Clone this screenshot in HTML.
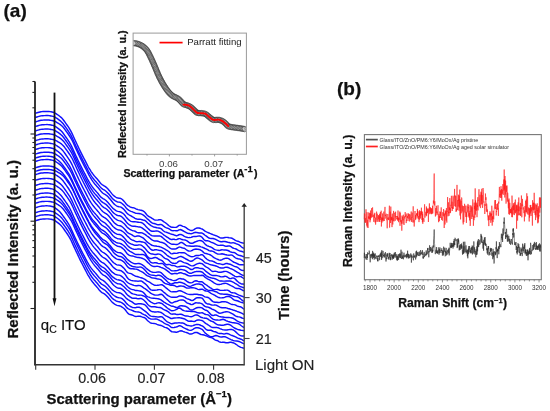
<!DOCTYPE html>
<html><head><meta charset="utf-8"><style>
html,body{margin:0;padding:0;background:#fff;}
svg{display:block;filter:blur(0.35px);}
</style></head><body>
<svg width="550" height="411" viewBox="0 0 550 411" font-family="Liberation Sans, sans-serif">
<rect width="550" height="411" fill="#fff"/>
<g fill="none" stroke="#1010ff" stroke-width="1.45" stroke-linejoin="round">
<path d="M35.0,113.50 L36.0,113.14 L37.0,112.80 L38.0,112.50 L39.0,112.21 L40.0,111.93 L41.0,111.73 L42.0,111.64 L43.0,111.56 L44.0,111.50 L45.0,111.45 L46.0,111.41 L47.0,111.40 L48.0,111.42 L49.0,111.50 L50.0,111.63 L51.0,111.79 L52.0,111.98 L53.0,112.20 L54.0,112.54 L55.0,113.05 L56.0,113.67 L57.0,114.34 L58.0,115.00 L59.0,115.70 L60.0,116.48 L61.0,117.34 L62.0,118.31 L63.0,119.46 L64.0,120.78 L65.0,122.18 L66.0,123.60 L67.0,125.01 L68.0,126.44 L69.0,127.95 L70.0,129.57 L71.0,131.33 L72.0,133.33 L73.0,135.49 L74.0,137.74 L75.0,139.98 L76.0,142.14 L77.0,144.26 L78.0,146.39 L79.0,148.50 L80.0,150.57 L81.0,152.61 L82.0,154.60 L83.0,156.57 L84.0,158.51 L85.0,160.44 L86.0,162.37 L87.0,164.32 L88.0,166.23 L89.0,168.03 L90.0,169.69 L91.0,171.28 L92.0,172.78 L93.0,174.17 L94.0,175.43 L95.0,176.60 L96.0,177.72 L97.0,178.83 L98.0,180.00 L99.0,181.26 L100.0,182.52 L101.0,183.67 L102.0,184.58 L103.0,185.23 L104.0,185.77 L105.0,186.35 L106.0,187.11 L107.0,188.05 L108.0,189.10 L109.0,190.18 L110.0,191.33 L111.0,192.60 L112.0,193.86 L113.0,194.98 L114.0,195.83 L115.0,196.60 L116.0,197.27 L117.0,197.80 L118.0,198.09 L119.0,198.16 L120.0,198.24 L121.0,198.58 L122.0,199.24 L123.0,200.15 L124.0,201.17 L125.0,202.39 L126.0,203.70 L127.0,204.82 L128.0,205.57 L129.0,206.22 L130.0,206.82 L131.0,207.23 L132.0,207.47 L133.0,207.67 L134.0,207.91 L135.0,208.31 L136.0,208.83 L137.0,209.29 L138.0,209.59 L139.0,209.84 L140.0,210.06 L141.0,210.23 L142.0,210.51 L143.0,210.95 L144.0,211.58 L145.0,212.48 L146.0,213.78 L147.0,215.07 L148.0,215.95 L149.0,216.51 L150.0,217.09 L151.0,217.70 L152.0,218.32 L153.0,218.98 L154.0,219.59 L155.0,219.99 L156.0,220.15 L157.0,220.12 L158.0,219.96 L159.0,219.76 L160.0,219.66 L161.0,219.80 L162.0,220.32 L163.0,221.09 L164.0,221.84 L165.0,222.49 L166.0,223.20 L167.0,224.03 L168.0,224.91 L169.0,225.71 L170.0,226.47 L171.0,227.01 L172.0,227.28 L173.0,227.31 L174.0,227.35 L175.0,227.40 L176.0,227.36 L177.0,226.96 L178.0,226.14 L179.0,225.39 L180.0,225.16 L181.0,225.45 L182.0,225.96 L183.0,226.37 L184.0,226.62 L185.0,226.99 L186.0,227.62 L187.0,228.38 L188.0,229.07 L189.0,229.67 L190.0,230.15 L191.0,230.50 L192.0,230.54 L193.0,230.19 L194.0,229.58 L195.0,228.90 L196.0,228.36 L197.0,228.07 L198.0,227.95 L199.0,228.02 L200.0,228.29 L201.0,228.65 L202.0,228.96 L203.0,229.54 L204.0,230.33 L205.0,231.11 L206.0,231.67 L207.0,232.12 L208.0,232.54 L209.0,232.99 L210.0,233.43 L211.0,233.82 L212.0,234.24 L213.0,234.66 L214.0,235.03 L215.0,235.37 L216.0,235.69 L217.0,236.08 L218.0,236.62 L219.0,237.24 L220.0,237.71 L221.0,237.95 L222.0,238.05 L223.0,237.96 L224.0,237.78 L225.0,237.58 L226.0,237.40 L227.0,237.37 L228.0,237.50 L229.0,237.71 L230.0,237.86 L231.0,238.00 L232.0,238.26 L233.0,238.78 L234.0,239.46 L235.0,240.10 L236.0,240.60 L237.0,240.95 L238.0,241.27 L239.0,241.64 L240.0,242.09 L241.0,242.49 L242.0,242.78 L243.0,243.03 L244.0,243.37"/>
<path d="M35.0,117.65 L36.0,117.29 L37.0,116.95 L38.0,116.65 L39.0,116.36 L40.0,116.08 L41.0,115.89 L42.0,115.79 L43.0,115.71 L44.0,115.65 L45.0,115.60 L46.0,115.56 L47.0,115.55 L48.0,115.58 L49.0,115.65 L50.0,115.78 L51.0,115.94 L52.0,116.14 L53.0,116.35 L54.0,116.68 L55.0,117.19 L56.0,117.81 L57.0,118.47 L58.0,119.13 L59.0,119.83 L60.0,120.60 L61.0,121.45 L62.0,122.41 L63.0,123.56 L64.0,124.87 L65.0,126.27 L66.0,127.69 L67.0,129.10 L68.0,130.53 L69.0,132.04 L70.0,133.65 L71.0,135.40 L72.0,137.39 L73.0,139.55 L74.0,141.80 L75.0,144.04 L76.0,146.20 L77.0,148.33 L78.0,150.45 L79.0,152.56 L80.0,154.64 L81.0,156.68 L82.0,158.67 L83.0,160.64 L84.0,162.58 L85.0,164.51 L86.0,166.44 L87.0,168.39 L88.0,170.31 L89.0,172.11 L90.0,173.78 L91.0,175.37 L92.0,176.87 L93.0,178.26 L94.0,179.54 L95.0,180.71 L96.0,181.82 L97.0,182.93 L98.0,184.10 L99.0,185.36 L100.0,186.62 L101.0,187.77 L102.0,188.70 L103.0,189.36 L104.0,189.90 L105.0,190.48 L106.0,191.22 L107.0,192.16 L108.0,193.21 L109.0,194.29 L110.0,195.43 L111.0,196.70 L112.0,197.97 L113.0,199.09 L114.0,199.93 L115.0,200.64 L116.0,201.25 L117.0,201.71 L118.0,202.00 L119.0,202.14 L120.0,202.33 L121.0,202.76 L122.0,203.47 L123.0,204.34 L124.0,205.25 L125.0,206.38 L126.0,207.69 L127.0,208.89 L128.0,209.73 L129.0,210.36 L130.0,210.87 L131.0,211.30 L132.0,211.70 L133.0,212.12 L134.0,212.55 L135.0,212.94 L136.0,213.20 L137.0,213.37 L138.0,213.46 L139.0,213.55 L140.0,213.69 L141.0,213.90 L142.0,214.30 L143.0,214.88 L144.0,215.60 L145.0,216.45 L146.0,217.55 L147.0,218.58 L148.0,219.38 L149.0,220.15 L150.0,221.16 L151.0,222.17 L152.0,222.88 L153.0,223.29 L154.0,223.49 L155.0,223.71 L156.0,224.07 L157.0,224.45 L158.0,224.67 L159.0,224.66 L160.0,224.55 L161.0,224.52 L162.0,224.89 L163.0,225.64 L164.0,226.47 L165.0,227.11 L166.0,227.61 L167.0,228.02 L168.0,228.36 L169.0,228.78 L170.0,229.49 L171.0,230.21 L172.0,230.63 L173.0,230.66 L174.0,230.60 L175.0,230.63 L176.0,230.79 L177.0,230.84 L178.0,230.48 L179.0,229.89 L180.0,229.58 L181.0,229.78 L182.0,230.23 L183.0,230.74 L184.0,231.29 L185.0,231.91 L186.0,232.50 L187.0,232.95 L188.0,233.24 L189.0,233.43 L190.0,233.59 L191.0,233.68 L192.0,233.53 L193.0,233.17 L194.0,232.74 L195.0,232.42 L196.0,232.34 L197.0,232.56 L198.0,232.83 L199.0,232.96 L200.0,232.96 L201.0,232.96 L202.0,233.05 L203.0,233.60 L204.0,234.43 L205.0,235.24 L206.0,235.88 L207.0,236.63 L208.0,237.43 L209.0,238.03 L210.0,238.37 L211.0,238.45 L212.0,238.42 L213.0,238.51 L214.0,238.80 L215.0,239.14 L216.0,239.54 L217.0,240.07 L218.0,240.58 L219.0,241.09 L220.0,241.55 L221.0,241.77 L222.0,241.67 L223.0,241.48 L224.0,241.40 L225.0,241.50 L226.0,241.74 L227.0,242.05 L228.0,242.35 L229.0,242.58 L230.0,242.79 L231.0,242.91 L232.0,242.85 L233.0,242.76 L234.0,242.88 L235.0,243.22 L236.0,243.66 L237.0,244.05 L238.0,244.40 L239.0,244.85 L240.0,245.56 L241.0,246.46 L242.0,247.30 L243.0,247.92 L244.0,248.37"/>
<path d="M35.0,122.07 L36.0,121.70 L37.0,121.37 L38.0,121.07 L39.0,120.77 L40.0,120.50 L41.0,120.30 L42.0,120.20 L43.0,120.13 L44.0,120.06 L45.0,120.01 L46.0,119.98 L47.0,119.97 L48.0,119.99 L49.0,120.07 L50.0,120.19 L51.0,120.35 L52.0,120.54 L53.0,120.74 L54.0,121.01 L55.0,121.44 L56.0,121.96 L57.0,122.55 L58.0,123.15 L59.0,123.75 L60.0,124.42 L61.0,125.18 L62.0,126.04 L63.0,127.03 L64.0,128.22 L65.0,129.55 L66.0,130.96 L67.0,132.37 L68.0,133.78 L69.0,135.23 L70.0,136.75 L71.0,138.38 L72.0,140.18 L73.0,142.21 L74.0,144.39 L75.0,146.64 L76.0,148.87 L77.0,151.02 L78.0,153.14 L79.0,155.27 L80.0,157.37 L81.0,159.44 L82.0,161.47 L83.0,163.46 L84.0,165.42 L85.0,167.36 L86.0,169.29 L87.0,171.22 L88.0,173.18 L89.0,175.08 L90.0,176.85 L91.0,178.50 L92.0,180.07 L93.0,181.56 L94.0,182.93 L95.0,184.18 L96.0,185.33 L97.0,186.44 L98.0,187.56 L99.0,188.75 L100.0,190.02 L101.0,191.27 L102.0,192.38 L103.0,193.25 L104.0,193.88 L105.0,194.42 L106.0,195.02 L107.0,195.81 L108.0,196.80 L109.0,197.89 L110.0,199.01 L111.0,200.23 L112.0,201.56 L113.0,202.85 L114.0,203.92 L115.0,204.75 L116.0,205.51 L117.0,206.14 L118.0,206.57 L119.0,206.76 L120.0,206.87 L121.0,207.15 L122.0,207.77 L123.0,208.64 L124.0,209.60 L125.0,210.72 L126.0,212.04 L127.0,213.27 L128.0,214.12 L129.0,214.76 L130.0,215.36 L131.0,215.94 L132.0,216.50 L133.0,217.09 L134.0,217.69 L135.0,218.27 L136.0,218.79 L137.0,219.15 L138.0,219.30 L139.0,219.30 L140.0,219.28 L141.0,219.39 L142.0,219.71 L143.0,220.03 L144.0,220.22 L145.0,220.55 L146.0,221.33 L147.0,222.35 L148.0,223.30 L149.0,224.07 L150.0,224.82 L151.0,225.56 L152.0,226.20 L153.0,226.70 L154.0,227.05 L155.0,227.26 L156.0,227.47 L157.0,227.71 L158.0,227.91 L159.0,228.04 L160.0,228.23 L161.0,228.61 L162.0,229.39 L163.0,230.43 L164.0,231.33 L165.0,231.83 L166.0,232.15 L167.0,232.51 L168.0,232.89 L169.0,233.27 L170.0,233.68 L171.0,233.99 L172.0,234.24 L173.0,234.46 L174.0,234.85 L175.0,235.29 L176.0,235.66 L177.0,235.68 L178.0,235.26 L179.0,234.72 L180.0,234.41 L181.0,234.49 L182.0,234.90 L183.0,235.49 L184.0,236.08 L185.0,236.63 L186.0,237.04 L187.0,237.31 L188.0,237.49 L189.0,237.61 L190.0,237.59 L191.0,237.34 L192.0,236.95 L193.0,236.63 L194.0,236.48 L195.0,236.45 L196.0,236.41 L197.0,236.31 L198.0,236.10 L199.0,235.96 L200.0,236.07 L201.0,236.52 L202.0,237.30 L203.0,238.48 L204.0,239.68 L205.0,240.54 L206.0,240.80 L207.0,240.79 L208.0,240.83 L209.0,241.11 L210.0,241.60 L211.0,242.13 L212.0,242.56 L213.0,242.90 L214.0,243.29 L215.0,243.83 L216.0,244.40 L217.0,244.93 L218.0,245.27 L219.0,245.37 L220.0,245.32 L221.0,245.18 L222.0,245.12 L223.0,245.27 L224.0,245.62 L225.0,246.04 L226.0,246.32 L227.0,246.29 L228.0,246.02 L229.0,245.86 L230.0,246.08 L231.0,246.63 L232.0,247.37 L233.0,248.02 L234.0,248.40 L235.0,248.66 L236.0,249.01 L237.0,249.51 L238.0,250.10 L239.0,250.65 L240.0,251.03 L241.0,251.24 L242.0,251.47 L243.0,251.84 L244.0,252.39"/>
<path d="M35.0,126.69 L36.0,126.33 L37.0,125.99 L38.0,125.69 L39.0,125.40 L40.0,125.12 L41.0,124.93 L42.0,124.83 L43.0,124.75 L44.0,124.69 L45.0,124.64 L46.0,124.61 L47.0,124.59 L48.0,124.62 L49.0,124.70 L50.0,124.82 L51.0,124.99 L52.0,125.18 L53.0,125.40 L54.0,125.76 L55.0,126.31 L56.0,126.96 L57.0,127.65 L58.0,128.34 L59.0,129.08 L60.0,129.90 L61.0,130.80 L62.0,131.82 L63.0,133.04 L64.0,134.38 L65.0,135.80 L66.0,137.21 L67.0,138.62 L68.0,140.08 L69.0,141.61 L70.0,143.26 L71.0,145.10 L72.0,147.15 L73.0,149.35 L74.0,151.61 L75.0,153.83 L76.0,155.96 L77.0,158.09 L78.0,160.21 L79.0,162.31 L80.0,164.38 L81.0,166.40 L82.0,168.38 L83.0,170.34 L84.0,172.28 L85.0,174.20 L86.0,176.14 L87.0,178.09 L88.0,179.98 L89.0,181.73 L90.0,183.37 L91.0,184.93 L92.0,186.40 L93.0,187.75 L94.0,188.98 L95.0,190.13 L96.0,191.24 L97.0,192.36 L98.0,193.56 L99.0,194.84 L100.0,196.07 L101.0,197.16 L102.0,197.99 L103.0,198.59 L104.0,199.13 L105.0,199.75 L106.0,200.56 L107.0,201.54 L108.0,202.60 L109.0,203.68 L110.0,204.85 L111.0,206.12 L112.0,207.34 L113.0,208.39 L114.0,209.20 L115.0,209.95 L116.0,210.60 L117.0,211.08 L118.0,211.39 L119.0,211.59 L120.0,211.82 L121.0,212.23 L122.0,212.79 L123.0,213.46 L124.0,214.26 L125.0,215.42 L126.0,216.82 L127.0,218.11 L128.0,219.08 L129.0,219.93 L130.0,220.75 L131.0,221.37 L132.0,221.65 L133.0,221.72 L134.0,221.74 L135.0,221.81 L136.0,221.89 L137.0,222.01 L138.0,222.16 L139.0,222.29 L140.0,222.39 L141.0,222.50 L142.0,222.84 L143.0,223.47 L144.0,224.34 L145.0,225.36 L146.0,226.51 L147.0,227.57 L148.0,228.48 L149.0,229.36 L150.0,230.29 L151.0,231.00 L152.0,231.30 L153.0,231.33 L154.0,231.25 L155.0,231.12 L156.0,230.99 L157.0,230.97 L158.0,231.13 L159.0,231.56 L160.0,232.15 L161.0,232.76 L162.0,233.46 L163.0,234.27 L164.0,235.07 L165.0,235.77 L166.0,236.44 L167.0,237.07 L168.0,237.73 L169.0,238.40 L170.0,239.04 L171.0,239.44 L172.0,239.49 L173.0,239.30 L174.0,239.33 L175.0,239.53 L176.0,239.65 L177.0,239.45 L178.0,238.98 L179.0,238.61 L180.0,238.65 L181.0,239.08 L182.0,239.56 L183.0,239.82 L184.0,239.87 L185.0,240.00 L186.0,240.33 L187.0,240.89 L188.0,241.63 L189.0,242.43 L190.0,243.02 L191.0,243.33 L192.0,243.30 L193.0,242.97 L194.0,242.50 L195.0,242.03 L196.0,241.62 L197.0,241.24 L198.0,240.86 L199.0,240.60 L200.0,240.56 L201.0,240.73 L202.0,241.03 L203.0,241.77 L204.0,242.88 L205.0,244.05 L206.0,244.93 L207.0,245.57 L208.0,246.04 L209.0,246.39 L210.0,246.71 L211.0,247.07 L212.0,247.61 L213.0,248.32 L214.0,249.04 L215.0,249.57 L216.0,249.88 L217.0,250.11 L218.0,250.34 L219.0,250.44 L220.0,250.29 L221.0,249.99 L222.0,249.81 L223.0,249.85 L224.0,249.96 L225.0,250.02 L226.0,250.06 L227.0,250.20 L228.0,250.52 L229.0,251.00 L230.0,251.56 L231.0,252.07 L232.0,252.36 L233.0,252.43 L234.0,252.49 L235.0,252.84 L236.0,253.54 L237.0,254.36 L238.0,254.97 L239.0,255.26 L240.0,255.47 L241.0,255.75 L242.0,256.13 L243.0,256.54 L244.0,256.93"/>
<path d="M35.0,131.13 L36.0,130.76 L37.0,130.43 L38.0,130.13 L39.0,129.83 L40.0,129.56 L41.0,129.36 L42.0,129.27 L43.0,129.19 L44.0,129.12 L45.0,129.07 L46.0,129.04 L47.0,129.03 L48.0,129.05 L49.0,129.13 L50.0,129.25 L51.0,129.42 L52.0,129.61 L53.0,129.82 L54.0,130.13 L55.0,130.61 L56.0,131.20 L57.0,131.83 L58.0,132.47 L59.0,133.13 L60.0,133.87 L61.0,134.69 L62.0,135.61 L63.0,136.70 L64.0,137.98 L65.0,139.36 L66.0,140.78 L67.0,142.19 L68.0,143.61 L69.0,145.09 L70.0,146.67 L71.0,148.38 L72.0,150.30 L73.0,152.42 L74.0,154.66 L75.0,156.91 L76.0,159.09 L77.0,161.22 L78.0,163.35 L79.0,165.46 L80.0,167.55 L81.0,169.60 L82.0,171.60 L83.0,173.58 L84.0,175.53 L85.0,177.46 L86.0,179.38 L87.0,181.33 L88.0,183.27 L89.0,185.11 L90.0,186.80 L91.0,188.42 L92.0,189.94 L93.0,191.37 L94.0,192.67 L95.0,193.87 L96.0,194.99 L97.0,196.10 L98.0,197.24 L99.0,198.48 L100.0,199.76 L101.0,200.95 L102.0,201.95 L103.0,202.67 L104.0,203.23 L105.0,203.78 L106.0,204.47 L107.0,205.37 L108.0,206.40 L109.0,207.49 L110.0,208.61 L111.0,209.87 L112.0,211.17 L113.0,212.35 L114.0,213.26 L115.0,214.03 L116.0,214.73 L117.0,215.28 L118.0,215.61 L119.0,215.72 L120.0,215.84 L121.0,216.26 L122.0,217.05 L123.0,218.03 L124.0,219.03 L125.0,220.20 L126.0,221.55 L127.0,222.80 L128.0,223.74 L129.0,224.53 L130.0,225.20 L131.0,225.72 L132.0,226.06 L133.0,226.21 L134.0,226.26 L135.0,226.34 L136.0,226.48 L137.0,226.62 L138.0,226.78 L139.0,226.91 L140.0,227.03 L141.0,227.34 L142.0,227.94 L143.0,228.68 L144.0,229.43 L145.0,230.15 L146.0,230.97 L147.0,231.90 L148.0,232.82 L149.0,233.65 L150.0,234.48 L151.0,235.23 L152.0,235.69 L153.0,235.89 L154.0,236.00 L155.0,236.03 L156.0,235.98 L157.0,235.96 L158.0,235.95 L159.0,235.96 L160.0,236.06 L161.0,236.43 L162.0,237.16 L163.0,238.06 L164.0,238.94 L165.0,239.72 L166.0,240.51 L167.0,241.31 L168.0,242.06 L169.0,242.73 L170.0,243.38 L171.0,243.90 L172.0,244.23 L173.0,244.31 L174.0,244.34 L175.0,244.38 L176.0,244.50 L177.0,244.51 L178.0,244.17 L179.0,243.60 L180.0,242.94 L181.0,242.51 L182.0,242.59 L183.0,243.18 L184.0,243.91 L185.0,244.71 L186.0,245.37 L187.0,245.70 L188.0,245.87 L189.0,246.01 L190.0,246.08 L191.0,246.20 L192.0,246.34 L193.0,246.33 L194.0,246.20 L195.0,246.08 L196.0,245.98 L197.0,246.00 L198.0,246.11 L199.0,246.30 L200.0,246.56 L201.0,246.85 L202.0,247.11 L203.0,247.54 L204.0,248.01 L205.0,248.47 L206.0,248.84 L207.0,249.32 L208.0,249.96 L209.0,250.58 L210.0,250.92 L211.0,251.00 L212.0,251.09 L213.0,251.40 L214.0,251.97 L215.0,252.65 L216.0,253.24 L217.0,253.68 L218.0,253.97 L219.0,254.11 L220.0,254.10 L221.0,253.94 L222.0,253.83 L223.0,253.97 L224.0,254.26 L225.0,254.53 L226.0,254.74 L227.0,254.96 L228.0,255.11 L229.0,255.18 L230.0,255.14 L231.0,255.00 L232.0,255.11 L233.0,255.74 L234.0,256.66 L235.0,257.51 L236.0,258.16 L237.0,258.58 L238.0,258.81 L239.0,258.95 L240.0,259.13 L241.0,259.49 L242.0,260.15 L243.0,261.04 L244.0,261.87"/>
<path d="M35.0,135.84 L36.0,135.48 L37.0,135.14 L38.0,134.84 L39.0,134.55 L40.0,134.27 L41.0,134.08 L42.0,133.98 L43.0,133.90 L44.0,133.84 L45.0,133.79 L46.0,133.75 L47.0,133.74 L48.0,133.77 L49.0,133.84 L50.0,133.97 L51.0,134.13 L52.0,134.31 L53.0,134.51 L54.0,134.77 L55.0,135.19 L56.0,135.70 L57.0,136.27 L58.0,136.86 L59.0,137.46 L60.0,138.11 L61.0,138.85 L62.0,139.70 L63.0,140.67 L64.0,141.83 L65.0,143.15 L66.0,144.55 L67.0,145.97 L68.0,147.38 L69.0,148.82 L70.0,150.33 L71.0,151.94 L72.0,153.71 L73.0,155.72 L74.0,157.88 L75.0,160.13 L76.0,162.37 L77.0,164.52 L78.0,166.65 L79.0,168.78 L80.0,170.88 L81.0,172.96 L82.0,174.99 L83.0,176.99 L84.0,178.95 L85.0,180.89 L86.0,182.82 L87.0,184.75 L88.0,186.71 L89.0,188.62 L90.0,190.41 L91.0,192.07 L92.0,193.66 L93.0,195.15 L94.0,196.54 L95.0,197.80 L96.0,198.97 L97.0,200.08 L98.0,201.19 L99.0,202.37 L100.0,203.63 L101.0,204.89 L102.0,206.03 L103.0,206.94 L104.0,207.59 L105.0,208.13 L106.0,208.71 L107.0,209.48 L108.0,210.45 L109.0,211.54 L110.0,212.66 L111.0,213.87 L112.0,215.21 L113.0,216.52 L114.0,217.62 L115.0,218.47 L116.0,219.23 L117.0,219.87 L118.0,220.35 L119.0,220.63 L120.0,220.86 L121.0,221.27 L122.0,221.96 L123.0,222.75 L124.0,223.53 L125.0,224.53 L126.0,225.82 L127.0,227.04 L128.0,227.93 L129.0,228.65 L130.0,229.32 L131.0,229.94 L132.0,230.41 L133.0,230.69 L134.0,230.91 L135.0,231.26 L136.0,231.77 L137.0,232.33 L138.0,232.67 L139.0,232.76 L140.0,232.72 L141.0,232.69 L142.0,232.87 L143.0,233.27 L144.0,233.80 L145.0,234.39 L146.0,235.19 L147.0,235.98 L148.0,236.69 L149.0,237.43 L150.0,238.27 L151.0,239.11 L152.0,239.80 L153.0,240.33 L154.0,240.77 L155.0,241.03 L156.0,241.06 L157.0,241.07 L158.0,241.28 L159.0,241.67 L160.0,242.05 L161.0,242.33 L162.0,242.55 L163.0,242.81 L164.0,243.21 L165.0,243.81 L166.0,244.63 L167.0,245.60 L168.0,246.50 L169.0,247.27 L170.0,248.03 L171.0,248.63 L172.0,248.97 L173.0,249.03 L174.0,249.05 L175.0,248.97 L176.0,248.75 L177.0,248.28 L178.0,247.61 L179.0,247.14 L180.0,247.08 L181.0,247.35 L182.0,247.71 L183.0,247.98 L184.0,248.19 L185.0,248.71 L186.0,249.48 L187.0,250.22 L188.0,250.80 L189.0,251.15 L190.0,251.13 L191.0,250.88 L192.0,250.49 L193.0,249.94 L194.0,249.44 L195.0,249.16 L196.0,249.06 L197.0,249.17 L198.0,249.30 L199.0,249.41 L200.0,249.69 L201.0,250.26 L202.0,250.96 L203.0,251.88 L204.0,252.77 L205.0,253.36 L206.0,253.58 L207.0,253.79 L208.0,254.08 L209.0,254.35 L210.0,254.73 L211.0,255.29 L212.0,256.02 L213.0,256.81 L214.0,257.56 L215.0,258.20 L216.0,258.66 L217.0,259.07 L218.0,259.51 L219.0,259.94 L220.0,260.16 L221.0,260.06 L222.0,259.71 L223.0,259.20 L224.0,258.69 L225.0,258.35 L226.0,258.17 L227.0,258.15 L228.0,258.39 L229.0,258.92 L230.0,259.58 L231.0,260.28 L232.0,261.02 L233.0,261.74 L234.0,262.25 L235.0,262.63 L236.0,263.04 L237.0,263.51 L238.0,264.03 L239.0,264.49 L240.0,264.74 L241.0,264.73 L242.0,264.63 L243.0,264.67 L244.0,264.99"/>
<path d="M35.0,140.88 L36.0,140.52 L37.0,140.18 L38.0,139.88 L39.0,139.59 L40.0,139.31 L41.0,139.11 L42.0,139.02 L43.0,138.94 L44.0,138.88 L45.0,138.83 L46.0,138.79 L47.0,138.78 L48.0,138.80 L49.0,138.88 L50.0,139.01 L51.0,139.17 L52.0,139.35 L53.0,139.54 L54.0,139.79 L55.0,140.17 L56.0,140.66 L57.0,141.20 L58.0,141.77 L59.0,142.34 L60.0,142.97 L61.0,143.68 L62.0,144.50 L63.0,145.44 L64.0,146.55 L65.0,147.83 L66.0,149.22 L67.0,150.64 L68.0,152.04 L69.0,153.47 L70.0,154.96 L71.0,156.54 L72.0,158.26 L73.0,160.20 L74.0,162.34 L75.0,164.57 L76.0,166.82 L77.0,169.00 L78.0,171.13 L79.0,173.25 L80.0,175.37 L81.0,177.45 L82.0,179.50 L83.0,181.50 L84.0,183.47 L85.0,185.42 L86.0,187.35 L87.0,189.28 L88.0,191.23 L89.0,193.16 L90.0,194.99 L91.0,196.68 L92.0,198.28 L93.0,199.80 L94.0,201.22 L95.0,202.52 L96.0,203.70 L97.0,204.83 L98.0,205.94 L99.0,207.08 L100.0,208.33 L101.0,209.60 L102.0,210.79 L103.0,211.76 L104.0,212.47 L105.0,213.03 L106.0,213.58 L107.0,214.30 L108.0,215.23 L109.0,216.31 L110.0,217.44 L111.0,218.63 L112.0,219.96 L113.0,221.30 L114.0,222.46 L115.0,223.34 L116.0,224.16 L117.0,224.87 L118.0,225.40 L119.0,225.65 L120.0,225.76 L121.0,226.05 L122.0,226.68 L123.0,227.53 L124.0,228.42 L125.0,229.48 L126.0,230.80 L127.0,232.07 L128.0,232.92 L129.0,233.47 L130.0,233.89 L131.0,234.33 L132.0,234.90 L133.0,235.58 L134.0,236.19 L135.0,236.47 L136.0,236.35 L137.0,236.02 L138.0,235.85 L139.0,236.00 L140.0,236.39 L141.0,236.80 L142.0,237.28 L143.0,237.90 L144.0,238.68 L145.0,239.65 L146.0,240.86 L147.0,241.94 L148.0,242.66 L149.0,243.27 L150.0,244.01 L151.0,244.74 L152.0,245.26 L153.0,245.60 L154.0,245.80 L155.0,245.94 L156.0,246.07 L157.0,246.23 L158.0,246.36 L159.0,246.53 L160.0,246.83 L161.0,247.19 L162.0,247.66 L163.0,248.18 L164.0,248.70 L165.0,249.20 L166.0,249.77 L167.0,250.35 L168.0,251.00 L169.0,251.81 L170.0,252.80 L171.0,253.59 L172.0,253.84 L173.0,253.57 L174.0,253.31 L175.0,253.27 L176.0,253.35 L177.0,253.27 L178.0,252.93 L179.0,252.64 L180.0,252.61 L181.0,252.67 L182.0,252.66 L183.0,252.62 L184.0,252.67 L185.0,253.07 L186.0,253.77 L187.0,254.49 L188.0,255.13 L189.0,255.72 L190.0,256.19 L191.0,256.50 L192.0,256.67 L193.0,256.62 L194.0,256.33 L195.0,255.90 L196.0,255.52 L197.0,255.44 L198.0,255.49 L199.0,255.42 L200.0,255.15 L201.0,254.81 L202.0,254.65 L203.0,255.20 L204.0,256.30 L205.0,257.47 L206.0,258.40 L207.0,259.26 L208.0,259.97 L209.0,260.45 L210.0,260.74 L211.0,260.90 L212.0,261.05 L213.0,261.33 L214.0,261.75 L215.0,262.31 L216.0,262.89 L217.0,263.33 L218.0,263.60 L219.0,263.74 L220.0,263.86 L221.0,264.10 L222.0,264.42 L223.0,264.51 L224.0,264.28 L225.0,263.88 L226.0,263.50 L227.0,263.47 L228.0,263.77 L229.0,264.07 L230.0,264.26 L231.0,264.54 L232.0,265.04 L233.0,265.63 L234.0,266.13 L235.0,266.47 L236.0,266.72 L237.0,267.10 L238.0,267.72 L239.0,268.56 L240.0,269.38 L241.0,269.98 L242.0,270.30 L243.0,270.43 L244.0,270.56"/>
<path d="M35.0,145.14 L36.0,144.78 L37.0,144.45 L38.0,144.14 L39.0,143.85 L40.0,143.58 L41.0,143.38 L42.0,143.28 L43.0,143.21 L44.0,143.14 L45.0,143.09 L46.0,143.06 L47.0,143.04 L48.0,143.07 L49.0,143.15 L50.0,143.27 L51.0,143.44 L52.0,143.63 L53.0,143.84 L54.0,144.16 L55.0,144.65 L56.0,145.25 L57.0,145.90 L58.0,146.54 L59.0,147.22 L60.0,147.97 L61.0,148.81 L62.0,149.75 L63.0,150.86 L64.0,152.15 L65.0,153.54 L66.0,154.97 L67.0,156.37 L68.0,157.80 L69.0,159.29 L70.0,160.88 L71.0,162.61 L72.0,164.56 L73.0,166.70 L74.0,168.94 L75.0,171.19 L76.0,173.36 L77.0,175.49 L78.0,177.61 L79.0,179.72 L80.0,181.81 L81.0,183.85 L82.0,185.85 L83.0,187.82 L84.0,189.77 L85.0,191.70 L86.0,193.63 L87.0,195.58 L88.0,197.51 L89.0,199.33 L90.0,201.01 L91.0,202.62 L92.0,204.13 L93.0,205.55 L94.0,206.84 L95.0,208.02 L96.0,209.14 L97.0,210.25 L98.0,211.40 L99.0,212.65 L100.0,213.92 L101.0,215.10 L102.0,216.07 L103.0,216.76 L104.0,217.31 L105.0,217.87 L106.0,218.58 L107.0,219.50 L108.0,220.54 L109.0,221.63 L110.0,222.75 L111.0,224.02 L112.0,225.30 L113.0,226.44 L114.0,227.32 L115.0,228.09 L116.0,228.79 L117.0,229.36 L118.0,229.75 L119.0,229.94 L120.0,230.11 L121.0,230.45 L122.0,231.04 L123.0,231.75 L124.0,232.49 L125.0,233.44 L126.0,234.58 L127.0,235.68 L128.0,236.60 L129.0,237.53 L130.0,238.48 L131.0,239.32 L132.0,239.86 L133.0,240.23 L134.0,240.62 L135.0,241.11 L136.0,241.51 L137.0,241.68 L138.0,241.64 L139.0,241.54 L140.0,241.58 L141.0,241.74 L142.0,241.93 L143.0,242.09 L144.0,242.33 L145.0,242.85 L146.0,243.87 L147.0,245.10 L148.0,246.23 L149.0,247.30 L150.0,248.41 L151.0,249.39 L152.0,250.05 L153.0,250.25 L154.0,250.07 L155.0,249.79 L156.0,249.72 L157.0,249.84 L158.0,250.08 L159.0,250.31 L160.0,250.45 L161.0,250.59 L162.0,251.03 L163.0,251.74 L164.0,252.54 L165.0,253.36 L166.0,254.28 L167.0,255.21 L168.0,256.00 L169.0,256.58 L170.0,257.13 L171.0,257.73 L172.0,258.28 L173.0,258.59 L174.0,258.74 L175.0,258.58 L176.0,258.23 L177.0,257.79 L178.0,257.29 L179.0,256.84 L180.0,256.59 L181.0,256.58 L182.0,256.79 L183.0,257.24 L184.0,257.77 L185.0,258.40 L186.0,259.01 L187.0,259.50 L188.0,260.01 L189.0,260.58 L190.0,261.02 L191.0,261.21 L192.0,261.03 L193.0,260.49 L194.0,259.74 L195.0,258.94 L196.0,258.28 L197.0,258.00 L198.0,258.08 L199.0,258.40 L200.0,258.87 L201.0,259.39 L202.0,259.90 L203.0,260.78 L204.0,261.81 L205.0,262.64 L206.0,263.05 L207.0,263.34 L208.0,263.69 L209.0,264.11 L210.0,264.49 L211.0,264.77 L212.0,264.99 L213.0,265.19 L214.0,265.42 L215.0,265.69 L216.0,265.97 L217.0,266.35 L218.0,266.86 L219.0,267.39 L220.0,267.81 L221.0,268.04 L222.0,268.06 L223.0,267.94 L224.0,267.70 L225.0,267.39 L226.0,267.16 L227.0,267.20 L228.0,267.49 L229.0,267.94 L230.0,268.41 L231.0,268.80 L232.0,269.18 L233.0,269.66 L234.0,270.19 L235.0,270.79 L236.0,271.45 L237.0,272.04 L238.0,272.61 L239.0,273.19 L240.0,273.81 L241.0,274.43 L242.0,274.99 L243.0,275.36 L244.0,275.57"/>
<path d="M35.0,149.70 L36.0,149.33 L37.0,149.00 L38.0,148.70 L39.0,148.40 L40.0,148.13 L41.0,147.93 L42.0,147.83 L43.0,147.76 L44.0,147.69 L45.0,147.64 L46.0,147.61 L47.0,147.60 L48.0,147.62 L49.0,147.70 L50.0,147.82 L51.0,147.99 L52.0,148.19 L53.0,148.42 L54.0,148.81 L55.0,149.39 L56.0,150.08 L57.0,150.80 L58.0,151.52 L59.0,152.31 L60.0,153.18 L61.0,154.13 L62.0,155.23 L63.0,156.49 L64.0,157.87 L65.0,159.30 L66.0,160.70 L67.0,162.12 L68.0,163.60 L69.0,165.17 L70.0,166.88 L71.0,168.79 L72.0,170.91 L73.0,173.14 L74.0,175.39 L75.0,177.58 L76.0,179.70 L77.0,181.83 L78.0,183.95 L79.0,186.04 L80.0,188.09 L81.0,190.09 L82.0,192.07 L83.0,194.02 L84.0,195.95 L85.0,197.88 L86.0,199.83 L87.0,201.76 L88.0,203.61 L89.0,205.31 L90.0,206.92 L91.0,208.45 L92.0,209.88 L93.0,211.19 L94.0,212.39 L95.0,213.52 L96.0,214.63 L97.0,215.77 L98.0,217.00 L99.0,218.28 L100.0,219.48 L101.0,220.48 L102.0,221.22 L103.0,221.78 L104.0,222.33 L105.0,223.01 L106.0,223.89 L107.0,224.90 L108.0,225.97 L109.0,227.04 L110.0,228.25 L111.0,229.50 L112.0,230.65 L113.0,231.59 L114.0,232.34 L115.0,233.05 L116.0,233.69 L117.0,234.17 L118.0,234.40 L119.0,234.46 L120.0,234.56 L121.0,234.98 L122.0,235.71 L123.0,236.65 L124.0,237.62 L125.0,238.74 L126.0,239.98 L127.0,241.18 L128.0,242.11 L129.0,242.85 L130.0,243.47 L131.0,243.93 L132.0,244.27 L133.0,244.63 L134.0,244.98 L135.0,245.22 L136.0,245.28 L137.0,245.24 L138.0,245.07 L139.0,244.87 L140.0,244.86 L141.0,245.14 L142.0,245.73 L143.0,246.52 L144.0,247.40 L145.0,248.33 L146.0,249.48 L147.0,250.74 L148.0,251.88 L149.0,252.73 L150.0,253.38 L151.0,253.78 L152.0,253.94 L153.0,254.08 L154.0,254.32 L155.0,254.48 L156.0,254.44 L157.0,254.24 L158.0,254.08 L159.0,254.12 L160.0,254.41 L161.0,254.94 L162.0,255.78 L163.0,256.77 L164.0,257.66 L165.0,258.29 L166.0,258.73 L167.0,259.11 L168.0,259.67 L169.0,260.51 L170.0,261.54 L171.0,262.43 L172.0,262.98 L173.0,263.19 L174.0,263.33 L175.0,263.41 L176.0,263.30 L177.0,262.77 L178.0,261.91 L179.0,261.16 L180.0,260.87 L181.0,261.07 L182.0,261.60 L183.0,262.19 L184.0,262.58 L185.0,262.85 L186.0,263.12 L187.0,263.50 L188.0,263.96 L189.0,264.53 L190.0,265.12 L191.0,265.60 L192.0,265.86 L193.0,265.85 L194.0,265.56 L195.0,264.98 L196.0,264.36 L197.0,263.93 L198.0,263.57 L199.0,263.34 L200.0,263.30 L201.0,263.42 L202.0,263.67 L203.0,264.37 L204.0,265.31 L205.0,266.22 L206.0,266.91 L207.0,267.46 L208.0,267.98 L209.0,268.67 L210.0,269.57 L211.0,270.50 L212.0,271.20 L213.0,271.48 L214.0,271.40 L215.0,271.29 L216.0,271.38 L217.0,271.67 L218.0,271.99 L219.0,272.23 L220.0,272.34 L221.0,272.27 L222.0,272.08 L223.0,271.79 L224.0,271.52 L225.0,271.36 L226.0,271.37 L227.0,271.64 L228.0,272.10 L229.0,272.65 L230.0,273.20 L231.0,273.75 L232.0,274.36 L233.0,275.04 L234.0,275.73 L235.0,276.31 L236.0,276.67 L237.0,276.74 L238.0,276.61 L239.0,276.42 L240.0,276.37 L241.0,276.68 L242.0,277.29 L243.0,278.03 L244.0,278.74"/>
<path d="M35.0,154.29 L36.0,153.93 L37.0,153.59 L38.0,153.29 L39.0,153.00 L40.0,152.72 L41.0,152.52 L42.0,152.43 L43.0,152.35 L44.0,152.29 L45.0,152.24 L46.0,152.20 L47.0,152.19 L48.0,152.21 L49.0,152.29 L50.0,152.42 L51.0,152.58 L52.0,152.77 L53.0,152.99 L54.0,153.32 L55.0,153.82 L56.0,154.44 L57.0,155.10 L58.0,155.75 L59.0,156.45 L60.0,157.21 L61.0,158.06 L62.0,159.02 L63.0,160.17 L64.0,161.47 L65.0,162.87 L66.0,164.29 L67.0,165.70 L68.0,167.13 L69.0,168.63 L70.0,170.24 L71.0,171.99 L72.0,173.97 L73.0,176.13 L74.0,178.37 L75.0,180.62 L76.0,182.77 L77.0,184.90 L78.0,187.03 L79.0,189.14 L80.0,191.22 L81.0,193.25 L82.0,195.25 L83.0,197.22 L84.0,199.16 L85.0,201.09 L86.0,203.02 L87.0,204.97 L88.0,206.89 L89.0,208.70 L90.0,210.37 L91.0,211.96 L92.0,213.46 L93.0,214.86 L94.0,216.14 L95.0,217.31 L96.0,218.43 L97.0,219.54 L98.0,220.70 L99.0,221.96 L100.0,223.23 L101.0,224.38 L102.0,225.31 L103.0,225.98 L104.0,226.53 L105.0,227.10 L106.0,227.84 L107.0,228.77 L108.0,229.81 L109.0,230.90 L110.0,232.04 L111.0,233.31 L112.0,234.59 L113.0,235.72 L114.0,236.57 L115.0,237.29 L116.0,237.92 L117.0,238.41 L118.0,238.73 L119.0,238.87 L120.0,238.99 L121.0,239.30 L122.0,239.83 L123.0,240.49 L124.0,241.23 L125.0,242.27 L126.0,243.59 L127.0,244.92 L128.0,245.97 L129.0,246.86 L130.0,247.65 L131.0,248.25 L132.0,248.65 L133.0,248.98 L134.0,249.25 L135.0,249.39 L136.0,249.34 L137.0,249.15 L138.0,248.95 L139.0,248.90 L140.0,249.09 L141.0,249.44 L142.0,250.00 L143.0,250.75 L144.0,251.71 L145.0,252.94 L146.0,254.51 L147.0,256.05 L148.0,257.15 L149.0,257.83 L150.0,258.27 L151.0,258.46 L152.0,258.37 L153.0,258.05 L154.0,257.70 L155.0,257.48 L156.0,257.55 L157.0,257.98 L158.0,258.64 L159.0,259.28 L160.0,259.74 L161.0,260.10 L162.0,260.65 L163.0,261.54 L164.0,262.69 L165.0,263.75 L166.0,264.46 L167.0,264.69 L168.0,264.56 L169.0,264.41 L170.0,264.65 L171.0,265.19 L172.0,265.57 L173.0,265.57 L174.0,265.62 L175.0,265.91 L176.0,266.41 L177.0,266.85 L178.0,266.91 L179.0,266.68 L180.0,266.43 L181.0,266.31 L182.0,266.26 L183.0,266.25 L184.0,266.21 L185.0,266.35 L186.0,266.71 L187.0,267.12 L188.0,267.59 L189.0,268.27 L190.0,268.99 L191.0,269.50 L192.0,269.57 L193.0,269.14 L194.0,268.46 L195.0,267.89 L196.0,267.62 L197.0,267.66 L198.0,267.82 L199.0,268.08 L200.0,268.36 L201.0,268.53 L202.0,268.51 L203.0,268.80 L204.0,269.52 L205.0,270.50 L206.0,271.39 L207.0,272.21 L208.0,272.93 L209.0,273.61 L210.0,274.31 L211.0,274.91 L212.0,275.30 L213.0,275.48 L214.0,275.47 L215.0,275.38 L216.0,275.42 L217.0,275.64 L218.0,275.85 L219.0,276.12 L220.0,276.44 L221.0,276.70 L222.0,276.86 L223.0,276.83 L224.0,276.56 L225.0,276.31 L226.0,276.37 L227.0,276.82 L228.0,277.53 L229.0,278.24 L230.0,278.63 L231.0,278.53 L232.0,278.14 L233.0,277.90 L234.0,278.12 L235.0,278.85 L236.0,279.87 L237.0,280.89 L238.0,281.78 L239.0,282.56 L240.0,283.23 L241.0,283.69 L242.0,283.92 L243.0,284.04 L244.0,284.19"/>
<path d="M35.0,158.24 L36.0,157.87 L37.0,157.54 L38.0,157.24 L39.0,156.95 L40.0,156.67 L41.0,156.47 L42.0,156.38 L43.0,156.30 L44.0,156.23 L45.0,156.18 L46.0,156.15 L47.0,156.14 L48.0,156.16 L49.0,156.24 L50.0,156.37 L51.0,156.53 L52.0,156.74 L53.0,156.97 L54.0,157.39 L55.0,158.00 L56.0,158.73 L57.0,159.47 L58.0,160.23 L59.0,161.06 L60.0,161.97 L61.0,162.98 L62.0,164.14 L63.0,165.45 L64.0,166.85 L65.0,168.27 L66.0,169.68 L67.0,171.11 L68.0,172.62 L69.0,174.23 L70.0,175.98 L71.0,177.97 L72.0,180.13 L73.0,182.38 L74.0,184.62 L75.0,186.78 L76.0,188.90 L77.0,191.03 L78.0,193.14 L79.0,195.22 L80.0,197.25 L81.0,199.25 L82.0,201.22 L83.0,203.16 L84.0,205.09 L85.0,207.02 L86.0,208.97 L87.0,210.89 L88.0,212.69 L89.0,214.36 L90.0,215.95 L91.0,217.45 L92.0,218.84 L93.0,220.12 L94.0,221.29 L95.0,222.40 L96.0,223.51 L97.0,224.68 L98.0,225.94 L99.0,227.20 L100.0,228.36 L101.0,229.28 L102.0,229.95 L103.0,230.49 L104.0,231.06 L105.0,231.80 L106.0,232.73 L107.0,233.77 L108.0,234.83 L109.0,235.93 L110.0,237.15 L111.0,238.37 L112.0,239.46 L113.0,240.32 L114.0,241.05 L115.0,241.73 L116.0,242.30 L117.0,242.74 L118.0,242.99 L119.0,243.14 L120.0,243.34 L121.0,243.74 L122.0,244.33 L123.0,245.03 L124.0,245.74 L125.0,246.70 L126.0,247.86 L127.0,249.01 L128.0,249.93 L129.0,250.70 L130.0,251.32 L131.0,251.82 L132.0,252.33 L133.0,252.99 L134.0,253.70 L135.0,254.23 L136.0,254.44 L137.0,254.46 L138.0,254.47 L139.0,254.54 L140.0,254.60 L141.0,254.54 L142.0,254.48 L143.0,254.57 L144.0,254.85 L145.0,255.35 L146.0,256.28 L147.0,257.49 L148.0,258.75 L149.0,260.05 L150.0,261.41 L151.0,262.42 L152.0,262.86 L153.0,262.92 L154.0,262.82 L155.0,262.69 L156.0,262.76 L157.0,263.05 L158.0,263.40 L159.0,263.64 L160.0,263.62 L161.0,263.41 L162.0,263.38 L163.0,263.84 L164.0,264.78 L165.0,265.85 L166.0,266.81 L167.0,267.53 L168.0,268.11 L169.0,268.71 L170.0,269.53 L171.0,270.31 L172.0,270.78 L173.0,270.89 L174.0,270.86 L175.0,270.77 L176.0,270.73 L177.0,270.60 L178.0,270.23 L179.0,269.81 L180.0,269.52 L181.0,269.46 L182.0,269.62 L183.0,269.87 L184.0,270.04 L185.0,270.38 L186.0,270.97 L187.0,271.66 L188.0,272.37 L189.0,272.97 L190.0,273.24 L191.0,273.20 L192.0,272.94 L193.0,272.53 L194.0,272.11 L195.0,271.78 L196.0,271.59 L197.0,271.53 L198.0,271.42 L199.0,271.35 L200.0,271.45 L201.0,271.73 L202.0,272.06 L203.0,272.72 L204.0,273.66 L205.0,274.67 L206.0,275.53 L207.0,276.25 L208.0,276.80 L209.0,277.19 L210.0,277.52 L211.0,277.84 L212.0,278.07 L213.0,278.20 L214.0,278.41 L215.0,278.73 L216.0,279.12 L217.0,279.65 L218.0,280.21 L219.0,280.65 L220.0,280.96 L221.0,281.09 L222.0,281.09 L223.0,281.11 L224.0,281.14 L225.0,281.10 L226.0,281.01 L227.0,280.95 L228.0,280.93 L229.0,280.97 L230.0,281.07 L231.0,281.29 L232.0,281.66 L233.0,282.16 L234.0,282.72 L235.0,283.30 L236.0,283.88 L237.0,284.48 L238.0,285.15 L239.0,285.81 L240.0,286.35 L241.0,286.77 L242.0,287.11 L243.0,287.46 L244.0,287.87"/>
<path d="M35.0,161.65 L36.0,161.29 L37.0,160.95 L38.0,160.65 L39.0,160.36 L40.0,160.08 L41.0,159.88 L42.0,159.79 L43.0,159.71 L44.0,159.65 L45.0,159.60 L46.0,159.56 L47.0,159.55 L48.0,159.57 L49.0,159.65 L50.0,159.78 L51.0,159.94 L52.0,160.14 L53.0,160.35 L54.0,160.69 L55.0,161.21 L56.0,161.84 L57.0,162.51 L58.0,163.18 L59.0,163.89 L60.0,164.67 L61.0,165.54 L62.0,166.52 L63.0,167.69 L64.0,169.01 L65.0,170.42 L66.0,171.83 L67.0,173.24 L68.0,174.68 L69.0,176.19 L70.0,177.81 L71.0,179.59 L72.0,181.60 L73.0,183.78 L74.0,186.02 L75.0,188.26 L76.0,190.41 L77.0,192.54 L78.0,194.66 L79.0,196.77 L80.0,198.84 L81.0,200.88 L82.0,202.87 L83.0,204.83 L84.0,206.77 L85.0,208.70 L86.0,210.63 L87.0,212.59 L88.0,214.49 L89.0,216.28 L90.0,217.94 L91.0,219.52 L92.0,221.01 L93.0,222.40 L94.0,223.66 L95.0,224.82 L96.0,225.93 L97.0,227.04 L98.0,228.22 L99.0,229.49 L100.0,230.74 L101.0,231.88 L102.0,232.77 L103.0,233.42 L104.0,233.96 L105.0,234.54 L106.0,235.31 L107.0,236.25 L108.0,237.31 L109.0,238.39 L110.0,239.54 L111.0,240.81 L112.0,242.07 L113.0,243.16 L114.0,244.00 L115.0,244.76 L116.0,245.44 L117.0,245.96 L118.0,246.29 L119.0,246.46 L120.0,246.68 L121.0,247.14 L122.0,247.85 L123.0,248.68 L124.0,249.56 L125.0,250.72 L126.0,252.12 L127.0,253.47 L128.0,254.47 L129.0,255.16 L130.0,255.60 L131.0,255.82 L132.0,255.91 L133.0,256.08 L134.0,256.40 L135.0,256.80 L136.0,257.13 L137.0,257.32 L138.0,257.42 L139.0,257.54 L140.0,257.67 L141.0,257.85 L142.0,258.22 L143.0,258.68 L144.0,259.12 L145.0,259.70 L146.0,260.60 L147.0,261.64 L148.0,262.63 L149.0,263.53 L150.0,264.44 L151.0,265.30 L152.0,265.92 L153.0,266.29 L154.0,266.49 L155.0,266.50 L156.0,266.36 L157.0,266.28 L158.0,266.38 L159.0,266.65 L160.0,267.04 L161.0,267.42 L162.0,267.77 L163.0,268.14 L164.0,268.60 L165.0,269.17 L166.0,269.87 L167.0,270.63 L168.0,271.39 L169.0,272.14 L170.0,273.03 L171.0,273.74 L172.0,273.99 L173.0,273.78 L174.0,273.59 L175.0,273.49 L176.0,273.59 L177.0,273.68 L178.0,273.41 L179.0,272.96 L180.0,272.70 L181.0,272.79 L182.0,273.09 L183.0,273.44 L184.0,273.68 L185.0,274.01 L186.0,274.48 L187.0,274.98 L188.0,275.48 L189.0,275.88 L190.0,276.01 L191.0,275.97 L192.0,275.85 L193.0,275.65 L194.0,275.50 L195.0,275.45 L196.0,275.42 L197.0,275.42 L198.0,275.44 L199.0,275.54 L200.0,275.59 L201.0,275.45 L202.0,275.20 L203.0,275.42 L204.0,276.16 L205.0,277.11 L206.0,277.87 L207.0,278.51 L208.0,279.08 L209.0,279.61 L210.0,280.15 L211.0,280.75 L212.0,281.38 L213.0,282.04 L214.0,282.80 L215.0,283.45 L216.0,283.87 L217.0,284.22 L218.0,284.48 L219.0,284.53 L220.0,284.41 L221.0,284.19 L222.0,283.88 L223.0,283.58 L224.0,283.41 L225.0,283.34 L226.0,283.35 L227.0,283.62 L228.0,284.11 L229.0,284.65 L230.0,285.19 L231.0,285.67 L232.0,286.10 L233.0,286.60 L234.0,287.26 L235.0,287.90 L236.0,288.31 L237.0,288.48 L238.0,288.48 L239.0,288.49 L240.0,288.77 L241.0,289.34 L242.0,289.96 L243.0,290.49 L244.0,290.88"/>
<path d="M35.0,168.01 L36.0,167.65 L37.0,167.31 L38.0,167.01 L39.0,166.72 L40.0,166.44 L41.0,166.25 L42.0,166.15 L43.0,166.07 L44.0,166.01 L45.0,165.96 L46.0,165.93 L47.0,165.91 L48.0,165.94 L49.0,166.01 L50.0,166.14 L51.0,166.30 L52.0,166.49 L53.0,166.70 L54.0,167.01 L55.0,167.50 L56.0,168.09 L57.0,168.73 L58.0,169.36 L59.0,170.03 L60.0,170.77 L61.0,171.59 L62.0,172.51 L63.0,173.61 L64.0,174.89 L65.0,176.27 L66.0,177.69 L67.0,179.10 L68.0,180.52 L69.0,182.00 L70.0,183.58 L71.0,185.29 L72.0,187.22 L73.0,189.35 L74.0,191.58 L75.0,193.83 L76.0,196.01 L77.0,198.14 L78.0,200.27 L79.0,202.38 L80.0,204.47 L81.0,206.52 L82.0,208.52 L83.0,210.49 L84.0,212.44 L85.0,214.37 L86.0,216.30 L87.0,218.25 L88.0,220.18 L89.0,222.02 L90.0,223.72 L91.0,225.33 L92.0,226.85 L93.0,228.28 L94.0,229.58 L95.0,230.77 L96.0,231.90 L97.0,233.00 L98.0,234.15 L99.0,235.39 L100.0,236.66 L101.0,237.85 L102.0,238.85 L103.0,239.57 L104.0,240.13 L105.0,240.68 L106.0,241.37 L107.0,242.27 L108.0,243.30 L109.0,244.39 L110.0,245.51 L111.0,246.78 L112.0,248.07 L113.0,249.25 L114.0,250.17 L115.0,250.94 L116.0,251.63 L117.0,252.17 L118.0,252.50 L119.0,252.60 L120.0,252.70 L121.0,253.03 L122.0,253.67 L123.0,254.51 L124.0,255.41 L125.0,256.51 L126.0,257.78 L127.0,258.98 L128.0,259.90 L129.0,260.69 L130.0,261.42 L131.0,262.09 L132.0,262.64 L133.0,263.13 L134.0,263.54 L135.0,263.77 L136.0,263.75 L137.0,263.61 L138.0,263.52 L139.0,263.56 L140.0,263.76 L141.0,264.10 L142.0,264.61 L143.0,265.28 L144.0,266.06 L145.0,266.94 L146.0,267.97 L147.0,268.93 L148.0,269.68 L149.0,270.34 L150.0,271.04 L151.0,271.60 L152.0,271.98 L153.0,272.23 L154.0,272.37 L155.0,272.38 L156.0,272.28 L157.0,272.13 L158.0,272.00 L159.0,271.99 L160.0,272.16 L161.0,272.63 L162.0,273.47 L163.0,274.50 L164.0,275.50 L165.0,276.35 L166.0,277.21 L167.0,278.05 L168.0,278.73 L169.0,279.12 L170.0,279.42 L171.0,279.78 L172.0,280.16 L173.0,280.41 L174.0,280.61 L175.0,280.58 L176.0,280.29 L177.0,279.76 L178.0,279.11 L179.0,278.64 L180.0,278.57 L181.0,278.75 L182.0,278.93 L183.0,279.08 L184.0,279.27 L185.0,279.82 L186.0,280.63 L187.0,281.40 L188.0,282.01 L189.0,282.51 L190.0,282.82 L191.0,282.89 L192.0,282.66 L193.0,282.13 L194.0,281.48 L195.0,280.95 L196.0,280.77 L197.0,281.02 L198.0,281.41 L199.0,281.69 L200.0,281.75 L201.0,281.71 L202.0,281.79 L203.0,282.44 L204.0,283.35 L205.0,284.16 L206.0,284.75 L207.0,285.43 L208.0,286.20 L209.0,286.94 L210.0,287.59 L211.0,288.18 L212.0,288.78 L213.0,289.35 L214.0,289.65 L215.0,289.60 L216.0,289.38 L217.0,289.32 L218.0,289.50 L219.0,289.86 L220.0,290.22 L221.0,290.38 L222.0,290.37 L223.0,290.35 L224.0,290.34 L225.0,290.26 L226.0,290.14 L227.0,290.10 L228.0,290.32 L229.0,290.89 L230.0,291.67 L231.0,292.34 L232.0,292.70 L233.0,292.83 L234.0,292.87 L235.0,293.07 L236.0,293.52 L237.0,294.12 L238.0,294.68 L239.0,295.12 L240.0,295.49 L241.0,295.84 L242.0,296.23 L243.0,296.67 L244.0,297.15"/>
<path d="M35.0,171.52 L36.0,171.16 L37.0,170.82 L38.0,170.52 L39.0,170.23 L40.0,169.95 L41.0,169.76 L42.0,169.66 L43.0,169.59 L44.0,169.52 L45.0,169.47 L46.0,169.44 L47.0,169.42 L48.0,169.45 L49.0,169.53 L50.0,169.65 L51.0,169.81 L52.0,169.99 L53.0,170.17 L54.0,170.40 L55.0,170.76 L56.0,171.21 L57.0,171.72 L58.0,172.27 L59.0,172.82 L60.0,173.41 L61.0,174.09 L62.0,174.88 L63.0,175.79 L64.0,176.83 L65.0,178.07 L66.0,179.43 L67.0,180.85 L68.0,182.26 L69.0,183.68 L70.0,185.14 L71.0,186.69 L72.0,188.37 L73.0,190.24 L74.0,192.32 L75.0,194.54 L76.0,196.79 L77.0,199.00 L78.0,201.13 L79.0,203.25 L80.0,205.37 L81.0,207.47 L82.0,209.53 L83.0,211.54 L84.0,213.52 L85.0,215.48 L86.0,217.41 L87.0,219.34 L88.0,221.28 L89.0,223.23 L90.0,225.09 L91.0,226.82 L92.0,228.45 L93.0,230.00 L94.0,231.45 L95.0,232.78 L96.0,234.00 L97.0,235.14 L98.0,236.24 L99.0,237.37 L100.0,238.59 L101.0,239.87 L102.0,241.09 L103.0,242.14 L104.0,242.92 L105.0,243.51 L106.0,244.05 L107.0,244.71 L108.0,245.60 L109.0,246.65 L110.0,247.79 L111.0,248.96 L112.0,250.30 L113.0,251.67 L114.0,252.91 L115.0,253.86 L116.0,254.69 L117.0,255.42 L118.0,255.97 L119.0,256.28 L120.0,256.43 L121.0,256.66 L122.0,257.19 L123.0,257.93 L124.0,258.76 L125.0,259.82 L126.0,261.16 L127.0,262.43 L128.0,263.42 L129.0,264.28 L130.0,265.09 L131.0,265.77 L132.0,266.27 L133.0,266.55 L134.0,266.70 L135.0,266.87 L136.0,267.01 L137.0,267.11 L138.0,267.17 L139.0,267.15 L140.0,267.09 L141.0,267.15 L142.0,267.53 L143.0,268.22 L144.0,269.10 L145.0,270.12 L146.0,271.32 L147.0,272.49 L148.0,273.38 L149.0,274.02 L150.0,274.57 L151.0,274.94 L152.0,275.10 L153.0,275.21 L154.0,275.37 L155.0,275.54 L156.0,275.67 L157.0,275.57 L158.0,275.32 L159.0,275.25 L160.0,275.47 L161.0,275.89 L162.0,276.58 L163.0,277.46 L164.0,278.36 L165.0,279.29 L166.0,280.31 L167.0,281.32 L168.0,282.22 L169.0,282.97 L170.0,283.65 L171.0,284.04 L172.0,283.95 L173.0,283.49 L174.0,283.06 L175.0,282.78 L176.0,282.69 L177.0,282.67 L178.0,282.47 L179.0,282.22 L180.0,282.20 L181.0,282.42 L182.0,282.72 L183.0,283.07 L184.0,283.45 L185.0,284.04 L186.0,284.76 L187.0,285.45 L188.0,285.96 L189.0,286.29 L190.0,286.37 L191.0,286.14 L192.0,285.69 L193.0,285.20 L194.0,284.81 L195.0,284.47 L196.0,284.14 L197.0,283.96 L198.0,283.91 L199.0,284.03 L200.0,284.25 L201.0,284.48 L202.0,284.81 L203.0,285.71 L204.0,287.06 L205.0,288.37 L206.0,289.19 L207.0,289.70 L208.0,290.11 L209.0,290.41 L210.0,290.51 L211.0,290.52 L212.0,290.63 L213.0,290.82 L214.0,291.09 L215.0,291.45 L216.0,291.76 L217.0,292.18 L218.0,292.81 L219.0,293.38 L220.0,293.73 L221.0,293.93 L222.0,294.04 L223.0,294.14 L224.0,294.23 L225.0,294.26 L226.0,294.21 L227.0,294.24 L228.0,294.43 L229.0,294.69 L230.0,295.00 L231.0,295.30 L232.0,295.65 L233.0,296.05 L234.0,296.38 L235.0,296.57 L236.0,296.62 L237.0,296.71 L238.0,297.04 L239.0,297.61 L240.0,298.41 L241.0,299.32 L242.0,300.19 L243.0,300.92 L244.0,301.48"/>
<path d="M35.0,174.85 L36.0,174.48 L37.0,174.15 L38.0,173.85 L39.0,173.55 L40.0,173.28 L41.0,173.08 L42.0,172.98 L43.0,172.91 L44.0,172.84 L45.0,172.79 L46.0,172.76 L47.0,172.75 L48.0,172.77 L49.0,172.85 L50.0,172.97 L51.0,173.14 L52.0,173.33 L53.0,173.55 L54.0,173.88 L55.0,174.39 L56.0,175.01 L57.0,175.67 L58.0,176.33 L59.0,177.03 L60.0,177.80 L61.0,178.66 L62.0,179.63 L63.0,180.78 L64.0,182.09 L65.0,183.49 L66.0,184.91 L67.0,186.32 L68.0,187.75 L69.0,189.26 L70.0,190.87 L71.0,192.63 L72.0,194.62 L73.0,196.78 L74.0,199.03 L75.0,201.27 L76.0,203.43 L77.0,205.56 L78.0,207.68 L79.0,209.79 L80.0,211.87 L81.0,213.90 L82.0,215.90 L83.0,217.86 L84.0,219.81 L85.0,221.74 L86.0,223.67 L87.0,225.62 L88.0,227.53 L89.0,229.33 L90.0,231.00 L91.0,232.59 L92.0,234.09 L93.0,235.48 L94.0,236.75 L95.0,237.92 L96.0,239.03 L97.0,240.15 L98.0,241.31 L99.0,242.58 L100.0,243.84 L101.0,244.99 L102.0,245.90 L103.0,246.57 L104.0,247.11 L105.0,247.68 L106.0,248.43 L107.0,249.37 L108.0,250.42 L109.0,251.51 L110.0,252.64 L111.0,253.91 L112.0,255.18 L113.0,256.31 L114.0,257.16 L115.0,257.91 L116.0,258.57 L117.0,259.08 L118.0,259.41 L119.0,259.57 L120.0,259.72 L121.0,260.06 L122.0,260.60 L123.0,261.28 L124.0,262.08 L125.0,263.19 L126.0,264.59 L127.0,266.03 L128.0,267.17 L129.0,268.00 L130.0,268.54 L131.0,268.73 L132.0,268.70 L133.0,268.75 L134.0,268.93 L135.0,269.06 L136.0,269.11 L137.0,269.30 L138.0,269.72 L139.0,270.28 L140.0,270.86 L141.0,271.33 L142.0,271.79 L143.0,272.39 L144.0,273.18 L145.0,274.04 L146.0,274.92 L147.0,275.60 L148.0,276.00 L149.0,276.29 L150.0,276.81 L151.0,277.47 L152.0,277.88 L153.0,277.99 L154.0,278.10 L155.0,278.31 L156.0,278.55 L157.0,278.79 L158.0,278.96 L159.0,279.11 L160.0,279.37 L161.0,279.91 L162.0,280.81 L163.0,281.86 L164.0,282.75 L165.0,283.33 L166.0,283.73 L167.0,284.06 L168.0,284.34 L169.0,284.61 L170.0,284.96 L171.0,285.24 L172.0,285.32 L173.0,285.26 L174.0,285.45 L175.0,285.92 L176.0,286.48 L177.0,286.74 L178.0,286.56 L179.0,286.22 L180.0,286.02 L181.0,286.01 L182.0,286.11 L183.0,286.26 L184.0,286.50 L185.0,287.07 L186.0,287.71 L187.0,288.05 L188.0,288.10 L189.0,288.03 L190.0,287.84 L191.0,287.67 L192.0,287.63 L193.0,287.70 L194.0,287.86 L195.0,288.12 L196.0,288.47 L197.0,288.95 L198.0,289.37 L199.0,289.59 L200.0,289.56 L201.0,289.33 L202.0,289.13 L203.0,289.52 L204.0,290.22 L205.0,290.80 L206.0,291.01 L207.0,291.13 L208.0,291.41 L209.0,291.98 L210.0,292.71 L211.0,293.34 L212.0,293.84 L213.0,294.29 L214.0,294.81 L215.0,295.41 L216.0,296.06 L217.0,296.68 L218.0,297.20 L219.0,297.58 L220.0,297.79 L221.0,297.86 L222.0,297.82 L223.0,297.71 L224.0,297.47 L225.0,297.14 L226.0,296.74 L227.0,296.42 L228.0,296.35 L229.0,296.48 L230.0,296.84 L231.0,297.44 L232.0,298.28 L233.0,299.16 L234.0,299.85 L235.0,300.27 L236.0,300.49 L237.0,300.69 L238.0,301.02 L239.0,301.48 L240.0,301.94 L241.0,302.29 L242.0,302.57 L243.0,302.85 L244.0,303.16"/>
<path d="M35.0,180.49 L36.0,180.12 L37.0,179.79 L38.0,179.49 L39.0,179.19 L40.0,178.92 L41.0,178.72 L42.0,178.63 L43.0,178.55 L44.0,178.48 L45.0,178.43 L46.0,178.40 L47.0,178.39 L48.0,178.41 L49.0,178.49 L50.0,178.61 L51.0,178.78 L52.0,178.98 L53.0,179.20 L54.0,179.55 L55.0,180.09 L56.0,180.74 L57.0,181.43 L58.0,182.11 L59.0,182.85 L60.0,183.66 L61.0,184.56 L62.0,185.57 L63.0,186.78 L64.0,188.12 L65.0,189.53 L66.0,190.95 L67.0,192.36 L68.0,193.81 L69.0,195.34 L70.0,196.99 L71.0,198.81 L72.0,200.86 L73.0,203.06 L74.0,205.31 L75.0,207.53 L76.0,209.67 L77.0,211.80 L78.0,213.92 L79.0,216.02 L80.0,218.09 L81.0,220.11 L82.0,222.10 L83.0,224.06 L84.0,225.99 L85.0,227.92 L86.0,229.86 L87.0,231.81 L88.0,233.70 L89.0,235.45 L90.0,237.10 L91.0,238.66 L92.0,240.13 L93.0,241.49 L94.0,242.73 L95.0,243.88 L96.0,244.99 L97.0,246.11 L98.0,247.30 L99.0,248.58 L100.0,249.82 L101.0,250.91 L102.0,251.75 L103.0,252.37 L104.0,252.90 L105.0,253.51 L106.0,254.32 L107.0,255.29 L108.0,256.35 L109.0,257.43 L110.0,258.60 L111.0,259.86 L112.0,261.09 L113.0,262.14 L114.0,262.96 L115.0,263.70 L116.0,264.35 L117.0,264.83 L118.0,265.08 L119.0,265.14 L120.0,265.23 L121.0,265.65 L122.0,266.41 L123.0,267.35 L124.0,268.32 L125.0,269.51 L126.0,270.89 L127.0,272.10 L128.0,272.82 L129.0,273.18 L130.0,273.38 L131.0,273.68 L132.0,274.14 L133.0,274.78 L134.0,275.46 L135.0,275.98 L136.0,276.28 L137.0,276.51 L138.0,276.79 L139.0,277.10 L140.0,277.42 L141.0,277.71 L142.0,278.01 L143.0,278.35 L144.0,278.80 L145.0,279.35 L146.0,280.07 L147.0,280.80 L148.0,281.40 L149.0,281.87 L150.0,282.48 L151.0,283.17 L152.0,283.80 L153.0,284.39 L154.0,284.95 L155.0,285.31 L156.0,285.39 L157.0,285.34 L158.0,285.25 L159.0,285.10 L160.0,284.87 L161.0,284.64 L162.0,284.74 L163.0,285.27 L164.0,286.12 L165.0,287.01 L166.0,287.86 L167.0,288.67 L168.0,289.47 L169.0,290.27 L170.0,291.05 L171.0,291.62 L172.0,291.86 L173.0,291.75 L174.0,291.69 L175.0,291.70 L176.0,291.68 L177.0,291.47 L178.0,291.07 L179.0,290.74 L180.0,290.70 L181.0,290.97 L182.0,291.42 L183.0,291.90 L184.0,292.34 L185.0,292.87 L186.0,293.42 L187.0,293.82 L188.0,294.13 L189.0,294.39 L190.0,294.52 L191.0,294.57 L192.0,294.54 L193.0,294.45 L194.0,294.31 L195.0,294.18 L196.0,294.12 L197.0,294.26 L198.0,294.47 L199.0,294.67 L200.0,294.82 L201.0,294.95 L202.0,295.07 L203.0,295.56 L204.0,296.27 L205.0,296.87 L206.0,297.10 L207.0,297.22 L208.0,297.48 L209.0,298.04 L210.0,298.87 L211.0,299.87 L212.0,300.89 L213.0,301.69 L214.0,302.08 L215.0,302.17 L216.0,302.19 L217.0,302.27 L218.0,302.41 L219.0,302.51 L220.0,302.38 L221.0,302.05 L222.0,301.80 L223.0,301.71 L224.0,301.67 L225.0,301.73 L226.0,301.89 L227.0,302.22 L228.0,302.70 L229.0,303.22 L230.0,303.71 L231.0,304.15 L232.0,304.46 L233.0,304.58 L234.0,304.63 L235.0,304.84 L236.0,305.26 L237.0,305.82 L238.0,306.28 L239.0,306.50 L240.0,306.67 L241.0,307.04 L242.0,307.66 L243.0,308.45 L244.0,309.31"/>
<path d="M35.0,185.64 L36.0,185.27 L37.0,184.94 L38.0,184.64 L39.0,184.34 L40.0,184.07 L41.0,183.87 L42.0,183.78 L43.0,183.70 L44.0,183.63 L45.0,183.58 L46.0,183.55 L47.0,183.54 L48.0,183.56 L49.0,183.64 L50.0,183.77 L51.0,183.93 L52.0,184.12 L53.0,184.33 L54.0,184.65 L55.0,185.15 L56.0,185.75 L57.0,186.40 L58.0,187.05 L59.0,187.73 L60.0,188.49 L61.0,189.32 L62.0,190.27 L63.0,191.39 L64.0,192.68 L65.0,194.08 L66.0,195.50 L67.0,196.90 L68.0,198.33 L69.0,199.82 L70.0,201.42 L71.0,203.15 L72.0,205.11 L73.0,207.25 L74.0,209.49 L75.0,211.74 L76.0,213.91 L77.0,216.04 L78.0,218.16 L79.0,220.27 L80.0,222.36 L81.0,224.40 L82.0,226.40 L83.0,228.37 L84.0,230.32 L85.0,232.25 L86.0,234.17 L87.0,236.13 L88.0,238.05 L89.0,239.87 L90.0,241.55 L91.0,243.15 L92.0,244.67 L93.0,246.07 L94.0,247.36 L95.0,248.54 L96.0,249.66 L97.0,250.77 L98.0,251.93 L99.0,253.18 L100.0,254.45 L101.0,255.62 L102.0,256.58 L103.0,257.27 L104.0,257.82 L105.0,258.38 L106.0,259.10 L107.0,260.01 L108.0,261.06 L109.0,262.15 L110.0,263.28 L111.0,264.54 L112.0,265.82 L113.0,266.98 L114.0,267.86 L115.0,268.62 L116.0,269.29 L117.0,269.82 L118.0,270.15 L119.0,270.28 L120.0,270.41 L121.0,270.73 L122.0,271.32 L123.0,272.09 L124.0,272.95 L125.0,274.14 L126.0,275.70 L127.0,277.29 L128.0,278.48 L129.0,279.33 L130.0,279.92 L131.0,280.34 L132.0,280.62 L133.0,280.78 L134.0,280.86 L135.0,280.93 L136.0,281.01 L137.0,281.13 L138.0,281.20 L139.0,281.10 L140.0,280.90 L141.0,280.91 L142.0,281.36 L143.0,282.08 L144.0,282.87 L145.0,283.60 L146.0,284.47 L147.0,285.52 L148.0,286.72 L149.0,287.94 L150.0,289.06 L151.0,289.84 L152.0,290.16 L153.0,290.24 L154.0,290.26 L155.0,290.23 L156.0,290.14 L157.0,290.00 L158.0,289.81 L159.0,289.63 L160.0,289.61 L161.0,289.88 L162.0,290.57 L163.0,291.53 L164.0,292.44 L165.0,293.19 L166.0,293.97 L167.0,294.84 L168.0,295.63 L169.0,296.19 L170.0,296.69 L171.0,297.10 L172.0,297.30 L173.0,297.27 L174.0,297.25 L175.0,297.21 L176.0,297.19 L177.0,297.00 L178.0,296.54 L179.0,296.08 L180.0,295.89 L181.0,295.95 L182.0,296.18 L183.0,296.51 L184.0,296.84 L185.0,297.38 L186.0,298.09 L187.0,298.63 L188.0,298.99 L189.0,299.34 L190.0,299.75 L191.0,300.22 L192.0,300.51 L193.0,300.36 L194.0,299.72 L195.0,298.85 L196.0,298.11 L197.0,297.75 L198.0,297.65 L199.0,297.66 L200.0,297.74 L201.0,297.86 L202.0,298.14 L203.0,299.09 L204.0,300.59 L205.0,302.13 L206.0,303.16 L207.0,303.72 L208.0,303.92 L209.0,304.07 L210.0,304.36 L211.0,304.72 L212.0,305.01 L213.0,305.12 L214.0,305.08 L215.0,305.00 L216.0,305.11 L217.0,305.54 L218.0,306.11 L219.0,306.69 L220.0,307.20 L221.0,307.56 L222.0,307.74 L223.0,307.81 L224.0,307.78 L225.0,307.75 L226.0,307.84 L227.0,308.14 L228.0,308.52 L229.0,308.80 L230.0,309.07 L231.0,309.36 L232.0,309.68 L233.0,310.02 L234.0,310.31 L235.0,310.60 L236.0,310.96 L237.0,311.41 L238.0,311.81 L239.0,312.15 L240.0,312.47 L241.0,312.83 L242.0,313.31 L243.0,313.90 L244.0,314.52"/>
<path d="M35.0,190.39 L36.0,190.03 L37.0,189.69 L38.0,189.39 L39.0,189.10 L40.0,188.82 L41.0,188.62 L42.0,188.53 L43.0,188.45 L44.0,188.39 L45.0,188.34 L46.0,188.30 L47.0,188.29 L48.0,188.31 L49.0,188.39 L50.0,188.52 L51.0,188.69 L52.0,188.89 L53.0,189.14 L54.0,189.58 L55.0,190.23 L56.0,190.99 L57.0,191.75 L58.0,192.56 L59.0,193.44 L60.0,194.40 L61.0,195.48 L62.0,196.71 L63.0,198.06 L64.0,199.48 L65.0,200.89 L66.0,202.30 L67.0,203.75 L68.0,205.29 L69.0,206.94 L70.0,208.77 L71.0,210.82 L72.0,213.02 L73.0,215.27 L74.0,217.50 L75.0,219.63 L76.0,221.76 L77.0,223.88 L78.0,225.98 L79.0,228.05 L80.0,230.07 L81.0,232.05 L82.0,234.01 L83.0,235.95 L84.0,237.87 L85.0,239.81 L86.0,241.76 L87.0,243.65 L88.0,245.40 L89.0,247.04 L90.0,248.61 L91.0,250.07 L92.0,251.43 L93.0,252.66 L94.0,253.81 L95.0,254.92 L96.0,256.04 L97.0,257.24 L98.0,258.52 L99.0,259.75 L100.0,260.84 L101.0,261.67 L102.0,262.28 L103.0,262.82 L104.0,263.43 L105.0,264.25 L106.0,265.22 L107.0,266.27 L108.0,267.33 L109.0,268.46 L110.0,269.68 L111.0,270.87 L112.0,271.90 L113.0,272.70 L114.0,273.41 L115.0,274.03 L116.0,274.52 L117.0,274.85 L118.0,275.02 L119.0,275.11 L120.0,275.34 L121.0,275.87 L122.0,276.62 L123.0,277.49 L124.0,278.41 L125.0,279.57 L126.0,280.86 L127.0,282.03 L128.0,282.80 L129.0,283.33 L130.0,283.83 L131.0,284.30 L132.0,284.69 L133.0,285.06 L134.0,285.37 L135.0,285.61 L136.0,285.75 L137.0,285.72 L138.0,285.59 L139.0,285.54 L140.0,285.65 L141.0,286.00 L142.0,286.66 L143.0,287.42 L144.0,288.09 L145.0,288.68 L146.0,289.35 L147.0,290.09 L148.0,290.94 L149.0,291.77 L150.0,292.63 L151.0,293.39 L152.0,293.91 L153.0,294.32 L154.0,294.73 L155.0,295.03 L156.0,295.14 L157.0,295.15 L158.0,295.05 L159.0,294.81 L160.0,294.48 L161.0,294.25 L162.0,294.52 L163.0,295.35 L164.0,296.49 L165.0,297.55 L166.0,298.48 L167.0,299.35 L168.0,300.24 L169.0,301.16 L170.0,302.12 L171.0,302.84 L172.0,303.02 L173.0,302.63 L174.0,302.13 L175.0,301.68 L176.0,301.44 L177.0,301.24 L178.0,300.81 L179.0,300.36 L180.0,300.13 L181.0,300.06 L182.0,299.97 L183.0,300.04 L184.0,300.36 L185.0,301.08 L186.0,302.07 L187.0,302.82 L188.0,303.22 L189.0,303.57 L190.0,304.02 L191.0,304.48 L192.0,304.64 L193.0,304.31 L194.0,303.66 L195.0,303.04 L196.0,302.76 L197.0,302.85 L198.0,302.98 L199.0,303.01 L200.0,303.08 L201.0,303.34 L202.0,303.79 L203.0,304.66 L204.0,305.66 L205.0,306.42 L206.0,306.76 L207.0,306.95 L208.0,307.16 L209.0,307.51 L210.0,307.98 L211.0,308.51 L212.0,309.04 L213.0,309.48 L214.0,309.92 L215.0,310.46 L216.0,311.09 L217.0,311.81 L218.0,312.52 L219.0,313.01 L220.0,313.18 L221.0,313.06 L222.0,312.78 L223.0,312.44 L224.0,312.15 L225.0,311.96 L226.0,311.79 L227.0,311.76 L228.0,311.88 L229.0,312.15 L230.0,312.56 L231.0,313.06 L232.0,313.57 L233.0,314.15 L234.0,314.89 L235.0,315.64 L236.0,316.22 L237.0,316.57 L238.0,316.73 L239.0,316.85 L240.0,317.11 L241.0,317.54 L242.0,317.97 L243.0,318.34 L244.0,318.69"/>
<path d="M35.0,195.12 L36.0,194.76 L37.0,194.42 L38.0,194.12 L39.0,193.83 L40.0,193.55 L41.0,193.36 L42.0,193.26 L43.0,193.18 L44.0,193.12 L45.0,193.07 L46.0,193.04 L47.0,193.02 L48.0,193.05 L49.0,193.12 L50.0,193.25 L51.0,193.42 L52.0,193.62 L53.0,193.86 L54.0,194.27 L55.0,194.89 L56.0,195.62 L57.0,196.36 L58.0,197.12 L59.0,197.95 L60.0,198.87 L61.0,199.88 L62.0,201.05 L63.0,202.36 L64.0,203.76 L65.0,205.18 L66.0,206.59 L67.0,208.03 L68.0,209.53 L69.0,211.14 L70.0,212.90 L71.0,214.89 L72.0,217.06 L73.0,219.30 L74.0,221.54 L75.0,223.70 L76.0,225.83 L77.0,227.95 L78.0,230.06 L79.0,232.14 L80.0,234.17 L81.0,236.17 L82.0,238.14 L83.0,240.08 L84.0,242.01 L85.0,243.94 L86.0,245.89 L87.0,247.81 L88.0,249.60 L89.0,251.27 L90.0,252.86 L91.0,254.36 L92.0,255.75 L93.0,257.02 L94.0,258.19 L95.0,259.31 L96.0,260.42 L97.0,261.59 L98.0,262.85 L99.0,264.11 L100.0,265.26 L101.0,266.18 L102.0,266.84 L103.0,267.38 L104.0,267.96 L105.0,268.70 L106.0,269.64 L107.0,270.67 L108.0,271.74 L109.0,272.83 L110.0,274.05 L111.0,275.27 L112.0,276.36 L113.0,277.21 L114.0,277.93 L115.0,278.59 L116.0,279.15 L117.0,279.58 L118.0,279.84 L119.0,280.00 L120.0,280.18 L121.0,280.53 L122.0,281.04 L123.0,281.69 L124.0,282.49 L125.0,283.63 L126.0,284.91 L127.0,286.09 L128.0,287.02 L129.0,287.84 L130.0,288.58 L131.0,289.12 L132.0,289.43 L133.0,289.64 L134.0,289.91 L135.0,290.25 L136.0,290.46 L137.0,290.55 L138.0,290.64 L139.0,290.84 L140.0,291.07 L141.0,291.29 L142.0,291.61 L143.0,292.18 L144.0,293.09 L145.0,294.24 L146.0,295.46 L147.0,296.36 L148.0,296.82 L149.0,297.12 L150.0,297.55 L151.0,297.95 L152.0,298.13 L153.0,298.16 L154.0,298.24 L155.0,298.35 L156.0,298.47 L157.0,298.65 L158.0,298.82 L159.0,299.00 L160.0,299.36 L161.0,299.88 L162.0,300.56 L163.0,301.35 L164.0,302.12 L165.0,302.70 L166.0,303.26 L167.0,303.82 L168.0,304.35 L169.0,304.86 L170.0,305.41 L171.0,305.90 L172.0,306.20 L173.0,306.31 L174.0,306.58 L175.0,307.02 L176.0,307.48 L177.0,307.59 L178.0,307.17 L179.0,306.47 L180.0,305.89 L181.0,305.66 L182.0,305.73 L183.0,305.97 L184.0,306.09 L185.0,306.22 L186.0,306.52 L187.0,307.05 L188.0,307.81 L189.0,308.77 L190.0,309.58 L191.0,310.00 L192.0,309.98 L193.0,309.66 L194.0,309.16 L195.0,308.58 L196.0,308.06 L197.0,307.73 L198.0,307.50 L199.0,307.39 L200.0,307.43 L201.0,307.61 L202.0,307.90 L203.0,308.59 L204.0,309.38 L205.0,309.95 L206.0,310.25 L207.0,310.67 L208.0,311.44 L209.0,312.47 L210.0,313.59 L211.0,314.62 L212.0,315.27 L213.0,315.43 L214.0,315.24 L215.0,314.98 L216.0,314.97 L217.0,315.35 L218.0,315.89 L219.0,316.36 L220.0,316.67 L221.0,316.83 L222.0,316.95 L223.0,317.09 L224.0,317.21 L225.0,317.35 L226.0,317.46 L227.0,317.44 L228.0,317.44 L229.0,317.53 L230.0,317.65 L231.0,317.77 L232.0,317.98 L233.0,318.28 L234.0,318.74 L235.0,319.44 L236.0,320.17 L237.0,320.81 L238.0,321.38 L239.0,321.89 L240.0,322.29 L241.0,322.59 L242.0,322.82 L243.0,323.01 L244.0,323.26"/>
<path d="M35.0,199.18 L36.0,198.81 L37.0,198.48 L38.0,198.18 L39.0,197.88 L40.0,197.61 L41.0,197.41 L42.0,197.32 L43.0,197.24 L44.0,197.17 L45.0,197.12 L46.0,197.09 L47.0,197.08 L48.0,197.10 L49.0,197.18 L50.0,197.31 L51.0,197.47 L52.0,197.66 L53.0,197.88 L54.0,198.21 L55.0,198.73 L56.0,199.35 L57.0,200.01 L58.0,200.67 L59.0,201.38 L60.0,202.15 L61.0,203.01 L62.0,203.98 L63.0,205.14 L64.0,206.45 L65.0,207.86 L66.0,209.27 L67.0,210.68 L68.0,212.12 L69.0,213.63 L70.0,215.24 L71.0,217.01 L72.0,219.00 L73.0,221.17 L74.0,223.42 L75.0,225.66 L76.0,227.81 L77.0,229.94 L78.0,232.06 L79.0,234.17 L80.0,236.25 L81.0,238.28 L82.0,240.28 L83.0,242.24 L84.0,244.18 L85.0,246.11 L86.0,248.04 L87.0,250.00 L88.0,251.91 L89.0,253.70 L90.0,255.37 L91.0,256.96 L92.0,258.45 L93.0,259.84 L94.0,261.11 L95.0,262.28 L96.0,263.39 L97.0,264.50 L98.0,265.67 L99.0,266.94 L100.0,268.20 L101.0,269.34 L102.0,270.25 L103.0,270.91 L104.0,271.45 L105.0,272.03 L106.0,272.78 L107.0,273.72 L108.0,274.77 L109.0,275.86 L110.0,277.00 L111.0,278.27 L112.0,279.53 L113.0,280.64 L114.0,281.50 L115.0,282.27 L116.0,282.94 L117.0,283.46 L118.0,283.75 L119.0,283.86 L120.0,284.00 L121.0,284.43 L122.0,285.14 L123.0,285.97 L124.0,286.78 L125.0,287.75 L126.0,288.82 L127.0,289.77 L128.0,290.49 L129.0,291.21 L130.0,292.04 L131.0,292.87 L132.0,293.52 L133.0,293.89 L134.0,294.13 L135.0,294.38 L136.0,294.67 L137.0,294.95 L138.0,295.13 L139.0,295.19 L140.0,295.15 L141.0,295.14 L142.0,295.35 L143.0,295.75 L144.0,296.16 L145.0,296.65 L146.0,297.53 L147.0,298.62 L148.0,299.67 L149.0,300.58 L150.0,301.42 L151.0,302.08 L152.0,302.56 L153.0,303.06 L154.0,303.51 L155.0,303.66 L156.0,303.49 L157.0,303.17 L158.0,302.88 L159.0,302.80 L160.0,302.93 L161.0,303.22 L162.0,303.70 L163.0,304.42 L164.0,305.25 L165.0,306.04 L166.0,306.90 L167.0,307.75 L168.0,308.53 L169.0,309.22 L170.0,309.90 L171.0,310.46 L172.0,310.70 L173.0,310.61 L174.0,310.42 L175.0,310.12 L176.0,309.67 L177.0,309.06 L178.0,308.39 L179.0,307.98 L180.0,308.18 L181.0,308.88 L182.0,309.67 L183.0,310.26 L184.0,310.60 L185.0,310.88 L186.0,311.09 L187.0,311.18 L188.0,311.20 L189.0,311.27 L190.0,311.35 L191.0,311.47 L192.0,311.54 L193.0,311.51 L194.0,311.56 L195.0,311.75 L196.0,312.07 L197.0,312.50 L198.0,312.82 L199.0,312.96 L200.0,312.95 L201.0,312.87 L202.0,312.76 L203.0,313.06 L204.0,313.73 L205.0,314.32 L206.0,314.53 L207.0,314.63 L208.0,314.90 L209.0,315.49 L210.0,316.43 L211.0,317.53 L212.0,318.44 L213.0,319.07 L214.0,319.51 L215.0,319.80 L216.0,319.92 L217.0,320.00 L218.0,320.08 L219.0,320.11 L220.0,320.06 L221.0,319.82 L222.0,319.49 L223.0,319.33 L224.0,319.51 L225.0,320.01 L226.0,320.56 L227.0,321.04 L228.0,321.43 L229.0,321.74 L230.0,322.03 L231.0,322.29 L232.0,322.50 L233.0,322.66 L234.0,322.81 L235.0,322.96 L236.0,323.09 L237.0,323.28 L238.0,323.58 L239.0,324.02 L240.0,324.70 L241.0,325.50 L242.0,326.24 L243.0,326.91 L244.0,327.54"/>
<path d="M35.0,203.45 L36.0,203.09 L37.0,202.75 L38.0,202.45 L39.0,202.16 L40.0,201.88 L41.0,201.69 L42.0,201.59 L43.0,201.51 L44.0,201.45 L45.0,201.40 L46.0,201.36 L47.0,201.35 L48.0,201.38 L49.0,201.45 L50.0,201.58 L51.0,201.74 L52.0,201.93 L53.0,202.13 L54.0,202.43 L55.0,202.88 L56.0,203.44 L57.0,204.06 L58.0,204.67 L59.0,205.31 L60.0,206.01 L61.0,206.80 L62.0,207.69 L63.0,208.74 L64.0,209.97 L65.0,211.34 L66.0,212.75 L67.0,214.16 L68.0,215.58 L69.0,217.04 L70.0,218.59 L71.0,220.26 L72.0,222.13 L73.0,224.21 L74.0,226.42 L75.0,228.67 L76.0,230.88 L77.0,233.01 L78.0,235.14 L79.0,237.26 L80.0,239.36 L81.0,241.42 L82.0,243.43 L83.0,245.41 L84.0,247.37 L85.0,249.30 L86.0,251.23 L87.0,253.17 L88.0,255.12 L89.0,256.99 L90.0,258.71 L91.0,260.35 L92.0,261.90 L93.0,263.35 L94.0,264.69 L95.0,265.90 L96.0,267.04 L97.0,268.15 L98.0,269.28 L99.0,270.49 L100.0,271.77 L101.0,272.99 L102.0,274.05 L103.0,274.84 L104.0,275.43 L105.0,275.96 L106.0,276.61 L107.0,277.46 L108.0,278.47 L109.0,279.56 L110.0,280.68 L111.0,281.93 L112.0,283.25 L113.0,284.48 L114.0,285.48 L115.0,286.28 L116.0,287.02 L117.0,287.61 L118.0,288.01 L119.0,288.16 L120.0,288.25 L121.0,288.53 L122.0,289.11 L123.0,289.88 L124.0,290.75 L125.0,291.88 L126.0,293.23 L127.0,294.49 L128.0,295.38 L129.0,296.09 L130.0,296.82 L131.0,297.52 L132.0,297.99 L133.0,298.19 L134.0,298.17 L135.0,298.12 L136.0,298.24 L137.0,298.52 L138.0,298.71 L139.0,298.66 L140.0,298.56 L141.0,298.57 L142.0,298.86 L143.0,299.50 L144.0,300.31 L145.0,301.18 L146.0,302.31 L147.0,303.56 L148.0,304.68 L149.0,305.55 L150.0,306.26 L151.0,306.68 L152.0,306.78 L153.0,306.71 L154.0,306.68 L155.0,306.78 L156.0,306.95 L157.0,307.17 L158.0,307.37 L159.0,307.45 L160.0,307.54 L161.0,307.82 L162.0,308.43 L163.0,309.16 L164.0,309.75 L165.0,310.11 L166.0,310.49 L167.0,311.01 L168.0,311.66 L169.0,312.43 L170.0,313.29 L171.0,313.92 L172.0,314.16 L173.0,314.04 L174.0,313.92 L175.0,313.97 L176.0,314.27 L177.0,314.54 L178.0,314.53 L179.0,314.37 L180.0,314.25 L181.0,314.28 L182.0,314.52 L183.0,314.96 L184.0,315.37 L185.0,315.75 L186.0,315.98 L187.0,316.04 L188.0,316.15 L189.0,316.41 L190.0,316.63 L191.0,316.67 L192.0,316.50 L193.0,316.11 L194.0,315.60 L195.0,315.14 L196.0,314.87 L197.0,314.97 L198.0,315.38 L199.0,316.00 L200.0,316.69 L201.0,317.26 L202.0,317.57 L203.0,317.85 L204.0,318.09 L205.0,318.23 L206.0,318.28 L207.0,318.56 L208.0,319.14 L209.0,319.86 L210.0,320.49 L211.0,320.98 L212.0,321.34 L213.0,321.70 L214.0,322.34 L215.0,323.19 L216.0,323.94 L217.0,324.47 L218.0,324.79 L219.0,324.94 L220.0,325.07 L221.0,325.20 L222.0,325.26 L223.0,325.19 L224.0,325.01 L225.0,324.75 L226.0,324.47 L227.0,324.33 L228.0,324.33 L229.0,324.45 L230.0,324.81 L231.0,325.45 L232.0,326.23 L233.0,327.02 L234.0,327.73 L235.0,328.27 L236.0,328.72 L237.0,329.15 L238.0,329.50 L239.0,329.74 L240.0,329.96 L241.0,330.20 L242.0,330.38 L243.0,330.57 L244.0,330.86"/>
<path d="M35.0,207.93 L36.0,207.57 L37.0,207.23 L38.0,206.93 L39.0,206.64 L40.0,206.36 L41.0,206.16 L42.0,206.07 L43.0,205.99 L44.0,205.93 L45.0,205.88 L46.0,205.84 L47.0,205.83 L48.0,205.85 L49.0,205.93 L50.0,206.06 L51.0,206.23 L52.0,206.44 L53.0,206.69 L54.0,207.14 L55.0,207.81 L56.0,208.58 L57.0,209.35 L58.0,210.18 L59.0,211.08 L60.0,212.07 L61.0,213.18 L62.0,214.45 L63.0,215.81 L64.0,217.23 L65.0,218.64 L66.0,220.05 L67.0,221.51 L68.0,223.06 L69.0,224.74 L70.0,226.60 L71.0,228.68 L72.0,230.89 L73.0,233.15 L74.0,235.36 L75.0,237.49 L76.0,239.61 L77.0,241.73 L78.0,243.83 L79.0,245.89 L80.0,247.90 L81.0,249.89 L82.0,251.84 L83.0,253.78 L84.0,255.70 L85.0,257.64 L86.0,259.59 L87.0,261.46 L88.0,263.19 L89.0,264.82 L90.0,266.37 L91.0,267.82 L92.0,269.16 L93.0,270.38 L94.0,271.52 L95.0,272.62 L96.0,273.75 L97.0,274.97 L98.0,276.24 L99.0,277.47 L100.0,278.53 L101.0,279.32 L102.0,279.90 L103.0,280.44 L104.0,281.08 L105.0,281.92 L106.0,282.91 L107.0,283.97 L108.0,285.02 L109.0,286.17 L110.0,287.39 L111.0,288.56 L112.0,289.56 L113.0,290.33 L114.0,291.02 L115.0,291.62 L116.0,292.11 L117.0,292.45 L118.0,292.63 L119.0,292.73 L120.0,292.93 L121.0,293.37 L122.0,294.05 L123.0,294.89 L124.0,295.79 L125.0,296.88 L126.0,297.99 L127.0,298.95 L128.0,299.66 L129.0,300.25 L130.0,300.80 L131.0,301.35 L132.0,301.94 L133.0,302.69 L134.0,303.49 L135.0,304.08 L136.0,304.24 L137.0,304.08 L138.0,303.82 L139.0,303.66 L140.0,303.67 L141.0,303.75 L142.0,303.91 L143.0,304.13 L144.0,304.45 L145.0,304.97 L146.0,305.88 L147.0,307.06 L148.0,308.26 L149.0,309.38 L150.0,310.41 L151.0,311.13 L152.0,311.50 L153.0,311.71 L154.0,311.91 L155.0,311.99 L156.0,311.94 L157.0,311.86 L158.0,311.83 L159.0,311.92 L160.0,312.13 L161.0,312.45 L162.0,313.01 L163.0,313.78 L164.0,314.60 L165.0,315.27 L166.0,315.82 L167.0,316.29 L168.0,316.80 L169.0,317.38 L170.0,318.01 L171.0,318.48 L172.0,318.57 L173.0,318.29 L174.0,318.06 L175.0,317.92 L176.0,317.89 L177.0,317.88 L178.0,317.80 L179.0,317.74 L180.0,317.84 L181.0,318.06 L182.0,318.29 L183.0,318.55 L184.0,318.79 L185.0,319.19 L186.0,319.80 L187.0,320.47 L188.0,320.98 L189.0,321.22 L190.0,321.17 L191.0,321.09 L192.0,321.19 L193.0,321.40 L194.0,321.49 L195.0,321.25 L196.0,320.70 L197.0,320.19 L198.0,319.92 L199.0,319.93 L200.0,320.12 L201.0,320.36 L202.0,320.52 L203.0,321.05 L204.0,321.93 L205.0,322.87 L206.0,323.56 L207.0,324.14 L208.0,324.77 L209.0,325.47 L210.0,326.20 L211.0,326.80 L212.0,327.22 L213.0,327.46 L214.0,327.56 L215.0,327.59 L216.0,327.57 L217.0,327.59 L218.0,327.78 L219.0,328.17 L220.0,328.63 L221.0,329.05 L222.0,329.40 L223.0,329.68 L224.0,329.90 L225.0,330.04 L226.0,330.06 L227.0,329.99 L228.0,329.82 L229.0,329.63 L230.0,329.54 L231.0,329.50 L232.0,329.59 L233.0,329.93 L234.0,330.48 L235.0,331.21 L236.0,332.13 L237.0,333.09 L238.0,333.97 L239.0,334.77 L240.0,335.40 L241.0,335.76 L242.0,335.91 L243.0,335.96 L244.0,336.04"/>
<path d="M35.0,212.92 L36.0,212.56 L37.0,212.22 L38.0,211.92 L39.0,211.63 L40.0,211.35 L41.0,211.16 L42.0,211.06 L43.0,210.98 L44.0,210.92 L45.0,210.87 L46.0,210.84 L47.0,210.82 L48.0,210.85 L49.0,210.93 L50.0,211.05 L51.0,211.22 L52.0,211.42 L53.0,211.64 L54.0,212.02 L55.0,212.59 L56.0,213.28 L57.0,213.98 L58.0,214.70 L59.0,215.47 L60.0,216.32 L61.0,217.26 L62.0,218.34 L63.0,219.59 L64.0,220.96 L65.0,222.38 L66.0,223.79 L67.0,225.21 L68.0,226.68 L69.0,228.24 L70.0,229.93 L71.0,231.82 L72.0,233.92 L73.0,236.14 L74.0,238.40 L75.0,240.59 L76.0,242.72 L77.0,244.85 L78.0,246.97 L79.0,249.06 L80.0,251.11 L81.0,253.12 L82.0,255.10 L83.0,257.05 L84.0,258.99 L85.0,260.91 L86.0,262.86 L87.0,264.80 L88.0,266.66 L89.0,268.37 L90.0,269.99 L91.0,271.53 L92.0,272.97 L93.0,274.30 L94.0,275.50 L95.0,276.64 L96.0,277.74 L97.0,278.88 L98.0,280.10 L99.0,281.38 L100.0,282.59 L101.0,283.62 L102.0,284.38 L103.0,284.96 L104.0,285.50 L105.0,286.16 L106.0,287.02 L107.0,288.02 L108.0,289.09 L109.0,290.16 L110.0,291.36 L111.0,292.61 L112.0,293.79 L113.0,294.76 L114.0,295.50 L115.0,296.19 L116.0,296.78 L117.0,297.25 L118.0,297.56 L119.0,297.72 L120.0,297.85 L121.0,298.14 L122.0,298.68 L123.0,299.43 L124.0,300.34 L125.0,301.52 L126.0,302.79 L127.0,303.89 L128.0,304.74 L129.0,305.53 L130.0,306.23 L131.0,306.80 L132.0,307.19 L133.0,307.43 L134.0,307.61 L135.0,307.69 L136.0,307.53 L137.0,307.30 L138.0,307.25 L139.0,307.32 L140.0,307.55 L141.0,308.05 L142.0,308.84 L143.0,309.70 L144.0,310.45 L145.0,311.09 L146.0,311.83 L147.0,312.75 L148.0,313.78 L149.0,314.78 L150.0,315.62 L151.0,316.15 L152.0,316.35 L153.0,316.41 L154.0,316.50 L155.0,316.63 L156.0,316.74 L157.0,316.85 L158.0,316.96 L159.0,316.93 L160.0,316.79 L161.0,316.68 L162.0,316.91 L163.0,317.63 L164.0,318.72 L165.0,319.82 L166.0,320.81 L167.0,321.62 L168.0,322.19 L169.0,322.62 L170.0,323.20 L171.0,323.70 L172.0,323.80 L173.0,323.52 L174.0,323.24 L175.0,323.01 L176.0,322.94 L177.0,322.95 L178.0,322.88 L179.0,322.81 L180.0,322.87 L181.0,322.93 L182.0,322.93 L183.0,323.09 L184.0,323.47 L185.0,324.10 L186.0,324.78 L187.0,325.22 L188.0,325.43 L189.0,325.63 L190.0,325.90 L191.0,326.04 L192.0,325.92 L193.0,325.58 L194.0,325.21 L195.0,324.86 L196.0,324.58 L197.0,324.49 L198.0,324.48 L199.0,324.64 L200.0,325.03 L201.0,325.49 L202.0,325.79 L203.0,326.37 L204.0,327.29 L205.0,328.36 L206.0,329.31 L207.0,330.00 L208.0,330.28 L209.0,330.20 L210.0,330.10 L211.0,330.26 L212.0,330.72 L213.0,331.26 L214.0,331.60 L215.0,331.79 L216.0,332.03 L217.0,332.52 L218.0,333.09 L219.0,333.44 L220.0,333.54 L221.0,333.52 L222.0,333.59 L223.0,333.81 L224.0,333.97 L225.0,333.85 L226.0,333.56 L227.0,333.47 L228.0,333.68 L229.0,334.10 L230.0,334.64 L231.0,335.13 L232.0,335.47 L233.0,335.80 L234.0,336.23 L235.0,336.71 L236.0,337.21 L237.0,337.73 L238.0,338.16 L239.0,338.48 L240.0,338.80 L241.0,339.22 L242.0,339.71 L243.0,340.27 L244.0,340.91"/>
<path d="M35.0,216.88 L36.0,216.52 L37.0,216.18 L38.0,215.88 L39.0,215.59 L40.0,215.31 L41.0,215.11 L42.0,215.02 L43.0,214.94 L44.0,214.88 L45.0,214.83 L46.0,214.79 L47.0,214.78 L48.0,214.80 L49.0,214.88 L50.0,215.01 L51.0,215.17 L52.0,215.38 L53.0,215.61 L54.0,216.00 L55.0,216.60 L56.0,217.30 L57.0,218.02 L58.0,218.76 L59.0,219.56 L60.0,220.45 L61.0,221.42 L62.0,222.54 L63.0,223.82 L64.0,225.21 L65.0,226.63 L66.0,228.03 L67.0,229.46 L68.0,230.95 L69.0,232.53 L70.0,234.25 L71.0,236.19 L72.0,238.32 L73.0,240.56 L74.0,242.81 L75.0,244.99 L76.0,247.11 L77.0,249.24 L78.0,251.35 L79.0,253.44 L80.0,255.48 L81.0,257.49 L82.0,259.46 L83.0,261.41 L84.0,263.34 L85.0,265.26 L86.0,267.22 L87.0,269.15 L88.0,270.98 L89.0,272.67 L90.0,274.27 L91.0,275.79 L92.0,277.21 L93.0,278.51 L94.0,279.70 L95.0,280.82 L96.0,281.93 L97.0,283.07 L98.0,284.32 L99.0,285.59 L100.0,286.78 L101.0,287.76 L102.0,288.47 L103.0,289.02 L104.0,289.58 L105.0,290.28 L106.0,291.17 L107.0,292.19 L108.0,293.26 L109.0,294.34 L110.0,295.55 L111.0,296.79 L112.0,297.93 L113.0,298.84 L114.0,299.56 L115.0,300.23 L116.0,300.81 L117.0,301.27 L118.0,301.54 L119.0,301.72 L120.0,301.95 L121.0,302.36 L122.0,302.92 L123.0,303.57 L124.0,304.31 L125.0,305.42 L126.0,306.78 L127.0,307.96 L128.0,308.67 L129.0,309.15 L130.0,309.57 L131.0,309.94 L132.0,310.34 L133.0,310.78 L134.0,311.21 L135.0,311.59 L136.0,311.81 L137.0,311.90 L138.0,311.96 L139.0,312.09 L140.0,312.37 L141.0,312.84 L142.0,313.53 L143.0,314.18 L144.0,314.61 L145.0,314.94 L146.0,315.55 L147.0,316.44 L148.0,317.33 L149.0,318.04 L150.0,318.63 L151.0,318.99 L152.0,319.11 L153.0,319.12 L154.0,319.11 L155.0,319.01 L156.0,318.94 L157.0,319.13 L158.0,319.56 L159.0,320.07 L160.0,320.58 L161.0,321.03 L162.0,321.55 L163.0,322.25 L164.0,323.04 L165.0,323.66 L166.0,324.14 L167.0,324.53 L168.0,324.94 L169.0,325.48 L170.0,326.30 L171.0,327.10 L172.0,327.57 L173.0,327.60 L174.0,327.47 L175.0,327.31 L176.0,327.14 L177.0,326.81 L178.0,326.28 L179.0,325.83 L180.0,325.77 L181.0,326.11 L182.0,326.70 L183.0,327.34 L184.0,327.84 L185.0,328.30 L186.0,328.78 L187.0,329.25 L188.0,329.72 L189.0,330.14 L190.0,330.35 L191.0,330.26 L192.0,329.86 L193.0,329.33 L194.0,328.74 L195.0,328.17 L196.0,327.75 L197.0,327.67 L198.0,327.77 L199.0,328.02 L200.0,328.41 L201.0,328.85 L202.0,329.34 L203.0,330.31 L204.0,331.61 L205.0,332.83 L206.0,333.69 L207.0,334.46 L208.0,335.20 L209.0,335.86 L210.0,336.46 L211.0,336.84 L212.0,336.84 L213.0,336.52 L214.0,336.12 L215.0,335.77 L216.0,335.55 L217.0,335.68 L218.0,336.07 L219.0,336.53 L220.0,336.90 L221.0,337.04 L222.0,336.93 L223.0,336.70 L224.0,336.64 L225.0,336.81 L226.0,337.14 L227.0,337.61 L228.0,338.17 L229.0,338.70 L230.0,339.15 L231.0,339.58 L232.0,339.97 L233.0,340.37 L234.0,340.70 L235.0,340.89 L236.0,340.98 L237.0,341.04 L238.0,341.19 L239.0,341.46 L240.0,341.86 L241.0,342.33 L242.0,342.80 L243.0,343.30 L244.0,343.87"/>
<path d="M35.0,220.97 L36.0,220.61 L37.0,220.27 L38.0,219.97 L39.0,219.68 L40.0,219.40 L41.0,219.21 L42.0,219.11 L43.0,219.03 L44.0,218.97 L45.0,218.92 L46.0,218.88 L47.0,218.87 L48.0,218.90 L49.0,218.97 L50.0,219.10 L51.0,219.27 L52.0,219.47 L53.0,219.70 L54.0,220.09 L55.0,220.69 L56.0,221.39 L57.0,222.11 L58.0,222.85 L59.0,223.65 L60.0,224.53 L61.0,225.50 L62.0,226.62 L63.0,227.90 L64.0,229.29 L65.0,230.71 L66.0,232.11 L67.0,233.54 L68.0,235.02 L69.0,236.61 L70.0,238.33 L71.0,240.26 L72.0,242.40 L73.0,244.63 L74.0,246.88 L75.0,249.06 L76.0,251.19 L77.0,253.31 L78.0,255.43 L79.0,257.51 L80.0,259.56 L81.0,261.56 L82.0,263.53 L83.0,265.48 L84.0,267.41 L85.0,269.34 L86.0,271.29 L87.0,273.22 L88.0,275.05 L89.0,276.74 L90.0,278.35 L91.0,279.87 L92.0,281.29 L93.0,282.59 L94.0,283.78 L95.0,284.90 L96.0,286.01 L97.0,287.16 L98.0,288.40 L99.0,289.68 L100.0,290.86 L101.0,291.84 L102.0,292.55 L103.0,293.11 L104.0,293.66 L105.0,294.36 L106.0,295.26 L107.0,296.28 L108.0,297.34 L109.0,298.42 L110.0,299.63 L111.0,300.88 L112.0,302.02 L113.0,302.93 L114.0,303.67 L115.0,304.36 L116.0,304.94 L117.0,305.38 L118.0,305.62 L119.0,305.74 L120.0,305.94 L121.0,306.38 L122.0,307.04 L123.0,307.78 L124.0,308.50 L125.0,309.50 L126.0,310.81 L127.0,312.19 L128.0,313.32 L129.0,314.12 L130.0,314.57 L131.0,314.77 L132.0,314.97 L133.0,315.36 L134.0,315.85 L135.0,316.25 L136.0,316.41 L137.0,316.35 L138.0,316.19 L139.0,316.16 L140.0,316.30 L141.0,316.57 L142.0,316.92 L143.0,317.23 L144.0,317.49 L145.0,317.93 L146.0,318.85 L147.0,319.99 L148.0,321.00 L149.0,321.79 L150.0,322.53 L151.0,323.09 L152.0,323.32 L153.0,323.36 L154.0,323.43 L155.0,323.60 L156.0,323.93 L157.0,324.37 L158.0,324.77 L159.0,325.04 L160.0,325.24 L161.0,325.44 L162.0,325.83 L163.0,326.39 L164.0,326.97 L165.0,327.33 L166.0,327.62 L167.0,328.00 L168.0,328.56 L169.0,329.36 L170.0,330.39 L171.0,331.26 L172.0,331.75 L173.0,331.86 L174.0,331.94 L175.0,332.04 L176.0,332.21 L177.0,332.18 L178.0,331.80 L179.0,331.32 L180.0,330.93 L181.0,330.82 L182.0,330.97 L183.0,331.38 L184.0,331.76 L185.0,332.11 L186.0,332.42 L187.0,332.73 L188.0,333.18 L189.0,333.71 L190.0,334.03 L191.0,334.02 L192.0,333.78 L193.0,333.34 L194.0,332.86 L195.0,332.51 L196.0,332.37 L197.0,332.54 L198.0,332.97 L199.0,333.51 L200.0,334.03 L201.0,334.48 L202.0,334.66 L203.0,334.79 L204.0,335.04 L205.0,335.39 L206.0,335.69 L207.0,336.12 L208.0,336.60 L209.0,337.01 L210.0,337.29 L211.0,337.56 L212.0,337.91 L213.0,338.45 L214.0,339.16 L215.0,339.82 L216.0,340.24 L217.0,340.53 L218.0,340.93 L219.0,341.52 L220.0,342.07 L221.0,342.36 L222.0,342.32 L223.0,342.18 L224.0,342.20 L225.0,342.45 L226.0,342.71 L227.0,342.82 L228.0,342.75 L229.0,342.50 L230.0,342.33 L231.0,342.31 L232.0,342.44 L233.0,342.72 L234.0,343.13 L235.0,343.65 L236.0,344.29 L237.0,345.04 L238.0,345.77 L239.0,346.42 L240.0,346.96 L241.0,347.36 L242.0,347.66 L243.0,347.98 L244.0,348.43"/>
</g>
<g stroke="#222" fill="none">
<line x1="35" y1="81.4" x2="35" y2="365.2" stroke-width="1.8"/>
<line x1="34.2" y1="364.8" x2="244.6" y2="364.8" stroke="#333" stroke-width="1.4"/>
</g>
<g stroke="#222" stroke-width="1.1"><line x1="30.5" y1="134.0" x2="35" y2="134.0"/><line x1="32.4" y1="107.8" x2="35" y2="107.8"/><line x1="32.4" y1="92.4" x2="35" y2="92.4"/><line x1="32.4" y1="81.5" x2="35" y2="81.5"/><line x1="30.5" y1="221.2" x2="35" y2="221.2"/><line x1="32.4" y1="195.0" x2="35" y2="195.0"/><line x1="32.4" y1="179.6" x2="35" y2="179.6"/><line x1="32.4" y1="168.7" x2="35" y2="168.7"/><line x1="32.4" y1="160.2" x2="35" y2="160.2"/><line x1="32.4" y1="153.3" x2="35" y2="153.3"/><line x1="32.4" y1="147.5" x2="35" y2="147.5"/><line x1="32.4" y1="142.5" x2="35" y2="142.5"/><line x1="32.4" y1="138.0" x2="35" y2="138.0"/><line x1="30.5" y1="308.5" x2="35" y2="308.5"/><line x1="32.4" y1="282.3" x2="35" y2="282.3"/><line x1="32.4" y1="266.9" x2="35" y2="266.9"/><line x1="32.4" y1="256.0" x2="35" y2="256.0"/><line x1="32.4" y1="247.5" x2="35" y2="247.5"/><line x1="32.4" y1="240.6" x2="35" y2="240.6"/><line x1="32.4" y1="234.8" x2="35" y2="234.8"/><line x1="32.4" y1="229.8" x2="35" y2="229.8"/><line x1="32.4" y1="225.3" x2="35" y2="225.3"/></g>
<g stroke="#333" stroke-width="1.1"><line x1="35.7" y1="364.5" x2="35.7" y2="369.8"/><line x1="95" y1="364.5" x2="95" y2="369.8"/><line x1="154.4" y1="364.5" x2="154.4" y2="369.8"/><line x1="213.6" y1="364.5" x2="213.6" y2="369.8"/></g>
<line x1="244.2" y1="206" x2="244.2" y2="365.2" stroke="#444" stroke-width="1.4"/>
<path d="M244.2,203 L246.9,206.8 L241.5,206.8 Z" fill="#222"/>
<g stroke="#444" stroke-width="1.1"><line x1="244.2" y1="257.8" x2="249.6" y2="257.8"/><line x1="244.2" y1="297.6" x2="249.6" y2="297.6"/><line x1="244.2" y1="338.5" x2="249.6" y2="338.5"/></g>
<line x1="54.5" y1="92.6" x2="54.5" y2="300" stroke="#111" stroke-width="1.8"/>
<path d="M54.5,306.3 L56.4,298.3 L52.6,298.3 Z" fill="#111"/>
<g font-family="Liberation Sans, sans-serif" fill="#111">
<text x="3.5" y="17.4" font-size="19" font-weight="bold" stroke="#111" stroke-width="0.25">(a)</text>
<text x="337" y="94.8" font-size="19" font-weight="bold" stroke="#111" stroke-width="0.25">(b)</text>
<g font-size="14.3" fill="#222" stroke="#222" stroke-width="0.15">
<text x="92.1" y="382.6" text-anchor="middle">0.06</text>
<text x="151.5" y="382.6" text-anchor="middle">0.07</text>
<text x="210.8" y="382.6" text-anchor="middle">0.08</text>
<text x="255.8" y="263.0" font-size="14.4">45</text>
<text x="255.8" y="302.8" font-size="14.4">30</text>
<text x="255.8" y="343.7" font-size="14.4">21</text>
<text x="254.9" y="369.9" font-size="15.1">Light ON</text>
</g>
<text x="46.6" y="403.5" font-size="14.95" font-weight="bold" stroke="#111" stroke-width="0.25">Scattering parameter (Å<tspan dy="-6.2" font-size="9.5">−1</tspan><tspan dy="6.2" dx="0.2">)</tspan></text>
<text transform="translate(17.8,338.6) rotate(-90)" font-size="15.1" font-weight="bold" stroke="#111" stroke-width="0.25">Reflected Intensity (a. u.)</text>
<text transform="translate(288.8,319.9) rotate(-90)" font-size="14.8" font-weight="bold" stroke="#111" stroke-width="0.25">Time (hours)</text>
<text x="40.8" y="330.2" font-size="15" fill="#111" stroke="#111" stroke-width="0.15">q<tspan font-size="10.5" dy="2.6">C</tspan><tspan dy="-2.6"> ITO</tspan></text>
</g>
<rect x="133.1" y="33.1" width="113.3" height="121.2" fill="#fff" stroke="#9a9a9a" stroke-width="1"/>
<clipPath id="ic"><rect x="133.6" y="33.6" width="112.3" height="120.2"/></clipPath>
<g fill="none" stroke="#383838" stroke-width="0.6" clip-path="url(#ic)"><circle cx="133.60" cy="43.20" r="2.75"/><circle cx="135.06" cy="43.27" r="2.75"/><circle cx="136.51" cy="43.50" r="2.75"/><circle cx="137.91" cy="43.93" r="2.75"/><circle cx="139.25" cy="44.45" r="2.75"/><circle cx="140.60" cy="45.03" r="2.75"/><circle cx="141.88" cy="45.71" r="2.75"/><circle cx="143.06" cy="46.52" r="2.75"/><circle cx="144.18" cy="47.45" r="2.75"/><circle cx="145.24" cy="48.43" r="2.75"/><circle cx="146.25" cy="49.51" r="2.75"/><circle cx="147.15" cy="50.67" r="2.75"/><circle cx="147.93" cy="51.89" r="2.75"/><circle cx="148.60" cy="53.11" r="2.75"/><circle cx="149.27" cy="54.43" r="2.75"/><circle cx="149.89" cy="55.69" r="2.75"/><circle cx="150.56" cy="57.09" r="2.75"/><circle cx="151.18" cy="58.37" r="2.75"/><circle cx="151.79" cy="59.67" r="2.75"/><circle cx="152.41" cy="61.03" r="2.75"/><circle cx="152.97" cy="62.29" r="2.75"/><circle cx="153.58" cy="63.69" r="2.75"/><circle cx="154.14" cy="64.98" r="2.75"/><circle cx="154.70" cy="66.28" r="2.75"/><circle cx="155.26" cy="67.59" r="2.75"/><circle cx="155.82" cy="68.94" r="2.75"/><circle cx="156.38" cy="70.31" r="2.75"/><circle cx="156.94" cy="71.69" r="2.75"/><circle cx="157.50" cy="73.03" r="2.75"/><circle cx="158.06" cy="74.33" r="2.75"/><circle cx="158.68" cy="75.68" r="2.75"/><circle cx="159.29" cy="76.98" r="2.75"/><circle cx="159.91" cy="78.24" r="2.75"/><circle cx="160.58" cy="79.56" r="2.75"/><circle cx="161.25" cy="80.84" r="2.75"/><circle cx="161.92" cy="82.07" r="2.75"/><circle cx="162.65" cy="83.34" r="2.75"/><circle cx="163.38" cy="84.58" r="2.75"/><circle cx="164.16" cy="85.85" r="2.75"/><circle cx="164.95" cy="87.08" r="2.75"/><circle cx="165.73" cy="88.25" r="2.75"/><circle cx="166.57" cy="89.47" r="2.75"/><circle cx="167.41" cy="90.64" r="2.75"/><circle cx="168.31" cy="91.80" r="2.75"/><circle cx="169.26" cy="92.88" r="2.75"/><circle cx="170.27" cy="93.91" r="2.75"/><circle cx="171.33" cy="94.90" r="2.75"/><circle cx="172.45" cy="95.77" r="2.75"/><circle cx="173.74" cy="96.50" r="2.75"/><circle cx="175.02" cy="97.07" r="2.75"/><circle cx="176.37" cy="97.71" r="2.75"/><circle cx="177.65" cy="98.38" r="2.75"/><circle cx="178.83" cy="99.26" r="2.75"/><circle cx="179.84" cy="100.26" r="2.75"/><circle cx="180.85" cy="101.33" r="2.75"/><circle cx="181.80" cy="102.35" r="2.75"/><circle cx="182.75" cy="103.49" r="2.75"/><circle cx="183.87" cy="104.38" r="2.75"/><circle cx="185.27" cy="104.83" r="2.75"/><circle cx="186.67" cy="105.19" r="2.75"/><circle cx="188.01" cy="105.69" r="2.75"/><circle cx="189.35" cy="106.29" r="2.75"/><circle cx="190.59" cy="106.98" r="2.75"/><circle cx="191.71" cy="107.87" r="2.75"/><circle cx="192.77" cy="108.88" r="2.75"/><circle cx="193.83" cy="109.90" r="2.75"/><circle cx="194.90" cy="110.86" r="2.75"/><circle cx="195.90" cy="111.90" r="2.75"/><circle cx="197.02" cy="112.81" r="2.75"/><circle cx="198.42" cy="113.06" r="2.75"/><circle cx="199.88" cy="113.12" r="2.75"/><circle cx="201.33" cy="113.17" r="2.75"/><circle cx="202.79" cy="113.32" r="2.75"/><circle cx="204.19" cy="113.59" r="2.75"/><circle cx="205.59" cy="114.05" r="2.75"/><circle cx="206.76" cy="114.89" r="2.75"/><circle cx="207.83" cy="115.85" r="2.75"/><circle cx="208.95" cy="116.79" r="2.75"/><circle cx="210.12" cy="117.69" r="2.75"/><circle cx="211.19" cy="118.58" r="2.75"/><circle cx="212.36" cy="119.44" r="2.75"/><circle cx="213.70" cy="119.98" r="2.75"/><circle cx="215.16" cy="119.96" r="2.75"/><circle cx="216.62" cy="119.86" r="2.75"/><circle cx="218.07" cy="119.80" r="2.75"/><circle cx="219.47" cy="119.98" r="2.75"/><circle cx="220.87" cy="120.44" r="2.75"/><circle cx="222.21" cy="121.01" r="2.75"/><circle cx="223.44" cy="121.75" r="2.75"/><circle cx="224.56" cy="122.68" r="2.75"/><circle cx="225.68" cy="123.67" r="2.75"/><circle cx="226.64" cy="124.76" r="2.75"/><circle cx="227.59" cy="125.84" r="2.75"/><circle cx="228.82" cy="126.54" r="2.75"/><circle cx="230.22" cy="126.88" r="2.75"/><circle cx="231.62" cy="127.11" r="2.75"/><circle cx="233.07" cy="127.32" r="2.75"/><circle cx="234.53" cy="127.54" r="2.75"/><circle cx="235.93" cy="127.73" r="2.75"/><circle cx="237.38" cy="127.91" r="2.75"/><circle cx="238.84" cy="128.10" r="2.75"/><circle cx="240.24" cy="128.31" r="2.75"/><circle cx="241.69" cy="128.55" r="2.75"/><circle cx="243.09" cy="128.81" r="2.75"/><circle cx="244.55" cy="129.10" r="2.75"/></g>
<path fill="none" stroke="#f00" stroke-width="1.9" stroke-linecap="round" d="M183.4,104.60 L183.9,104.61 L184.4,104.64 L184.9,104.68 L185.4,104.74 L185.9,104.82 L186.4,104.90 L186.9,104.98 L187.4,105.09 L187.9,105.25 L188.4,105.46 L188.9,105.70 L189.4,105.97 L189.9,106.26 L190.4,106.56 L190.9,106.93 L191.4,107.36 L191.9,107.85 L192.4,108.37 L192.9,108.90 L193.4,109.43 L193.9,109.94 L194.4,110.40 L194.9,110.88 L195.4,111.40 L195.9,111.91 L196.4,112.38 L196.9,112.74 L197.4,112.96 L197.9,113.03 L198.4,113.06 L198.9,113.09 L199.4,113.10 L199.9,113.12 L200.4,113.14 L200.9,113.16 L201.4,113.18 L201.9,113.21 L202.4,113.25 L202.9,113.30 L203.4,113.35 L203.9,113.41 L204.4,113.49 L204.9,113.58 L205.4,113.73 L205.9,114.01 L206.4,114.39 L206.9,114.85 L207.4,115.34 L207.9,115.84 L208.4,116.32 L208.9,116.75 L209.4,117.12 L209.9,117.52 L210.4,117.94 L210.9,118.36 L211.4,118.77 L211.9,119.15 L212.4,119.47 L212.9,119.74 L213.4,119.92 L213.9,120.00 L214.4,119.99 L214.9,119.95 L215.4,119.89 L215.9,119.82 L216.4,119.75 L216.9,119.68 L217.4,119.63 L217.9,119.60 L218.4,119.61 L218.9,119.68 L219.4,119.80 L219.9,119.96 L220.4,120.16 L220.9,120.38 L221.4,120.61 L221.9,120.86 L222.4,121.10 L222.9,121.40 L223.4,121.75 L223.9,122.14 L224.4,122.56 L224.9,122.99 L225.4,123.42 L225.9,123.84 L226.4,124.28 L226.9,124.74 L227.4,125.21 L227.9,125.70 L228.4,126.20"/>
<g stroke="#888" stroke-width="0.8"><line x1="147" y1="154.3" x2="147" y2="155.6"/><line x1="169.4" y1="154.3" x2="169.4" y2="156.4"/><line x1="192" y1="154.3" x2="192" y2="155.6"/><line x1="214.6" y1="154.3" x2="214.6" y2="156.4"/><line x1="237.2" y1="154.3" x2="237.2" y2="155.6"/></g>
<line x1="159.5" y1="42.6" x2="182.6" y2="42.6" stroke="#f00" stroke-width="1.7"/>
<g font-family="Liberation Sans, sans-serif">
<text x="187.2" y="45.2" font-size="9.6" fill="#222">Parratt fitting</text>
<g font-size="9.7" fill="#444">
<text x="168.5" y="166.9" text-anchor="middle">0.06</text><text x="213.7" y="166.9" text-anchor="middle">0.07</text>
</g>
<text x="123.4" y="176.6" font-size="10.6" font-weight="bold" stroke="#111" stroke-width="0.25" fill="#111">Scattering parameter <tspan dx="0.8">(A</tspan><tspan dy="-4.3" font-size="9.5">-1</tspan><tspan dy="4.3" dx="1.2">)</tspan></text>
<text transform="translate(126.1,158.1) rotate(-90)" font-size="10.8" font-weight="bold" stroke="#111" stroke-width="0.25" fill="#111">Reflected Intensity (a. u.)</text>
</g>
<rect x="364.4" y="134.6" width="176.9" height="145.1" fill="none" stroke="#777" stroke-width="1.1"/>
<g stroke="#666" stroke-width="0.7"><line x1="365.17" y1="279.7" x2="365.17" y2="281.4"/><line x1="370.00" y1="279.7" x2="370.00" y2="282.4"/><line x1="374.83" y1="279.7" x2="374.83" y2="281.4"/><line x1="379.66" y1="279.7" x2="379.66" y2="281.4"/><line x1="384.49" y1="279.7" x2="384.49" y2="281.4"/><line x1="389.32" y1="279.7" x2="389.32" y2="281.4"/><line x1="394.15" y1="279.7" x2="394.15" y2="282.4"/><line x1="398.98" y1="279.7" x2="398.98" y2="281.4"/><line x1="403.81" y1="279.7" x2="403.81" y2="281.4"/><line x1="408.64" y1="279.7" x2="408.64" y2="281.4"/><line x1="413.47" y1="279.7" x2="413.47" y2="281.4"/><line x1="418.30" y1="279.7" x2="418.30" y2="282.4"/><line x1="423.13" y1="279.7" x2="423.13" y2="281.4"/><line x1="427.96" y1="279.7" x2="427.96" y2="281.4"/><line x1="432.79" y1="279.7" x2="432.79" y2="281.4"/><line x1="437.62" y1="279.7" x2="437.62" y2="281.4"/><line x1="442.45" y1="279.7" x2="442.45" y2="282.4"/><line x1="447.28" y1="279.7" x2="447.28" y2="281.4"/><line x1="452.11" y1="279.7" x2="452.11" y2="281.4"/><line x1="456.94" y1="279.7" x2="456.94" y2="281.4"/><line x1="461.77" y1="279.7" x2="461.77" y2="281.4"/><line x1="466.60" y1="279.7" x2="466.60" y2="282.4"/><line x1="471.43" y1="279.7" x2="471.43" y2="281.4"/><line x1="476.26" y1="279.7" x2="476.26" y2="281.4"/><line x1="481.09" y1="279.7" x2="481.09" y2="281.4"/><line x1="485.92" y1="279.7" x2="485.92" y2="281.4"/><line x1="490.75" y1="279.7" x2="490.75" y2="282.4"/><line x1="495.58" y1="279.7" x2="495.58" y2="281.4"/><line x1="500.41" y1="279.7" x2="500.41" y2="281.4"/><line x1="505.24" y1="279.7" x2="505.24" y2="281.4"/><line x1="510.07" y1="279.7" x2="510.07" y2="281.4"/><line x1="514.90" y1="279.7" x2="514.90" y2="282.4"/><line x1="519.73" y1="279.7" x2="519.73" y2="281.4"/><line x1="524.56" y1="279.7" x2="524.56" y2="281.4"/><line x1="529.39" y1="279.7" x2="529.39" y2="281.4"/><line x1="534.22" y1="279.7" x2="534.22" y2="281.4"/><line x1="539.05" y1="279.7" x2="539.05" y2="282.4"/></g>
<g font-family="Liberation Sans, sans-serif" font-size="6.3" fill="#333"><text x="370.0" y="289.7" text-anchor="middle">1800</text><text x="394.1" y="289.7" text-anchor="middle">2000</text><text x="418.3" y="289.7" text-anchor="middle">2200</text><text x="442.4" y="289.7" text-anchor="middle">2400</text><text x="466.6" y="289.7" text-anchor="middle">2600</text><text x="490.8" y="289.7" text-anchor="middle">2800</text><text x="514.9" y="289.7" text-anchor="middle">3000</text><text x="539.0" y="289.7" text-anchor="middle">3200</text></g>
<text x="398.3" y="307.2" font-family="Liberation Sans, sans-serif" font-size="12.15" font-weight="bold" stroke="#111" stroke-width="0.25" fill="#111">Raman Shift (cm<tspan dy="-4.7" font-size="7.4">−1</tspan><tspan dy="4.7" dx="0.4">)</tspan></text>
<text transform="translate(351.6,266.9) rotate(-90)" font-family="Liberation Sans, sans-serif" font-size="12.4" font-weight="bold" stroke="#111" stroke-width="0.25" fill="#111">Raman Intensity (a. u.)</text>
<line x1="365.9" y1="139.6" x2="377.8" y2="139.6" stroke="#505050" stroke-width="1.7"/>
<line x1="365.9" y1="146.5" x2="377.8" y2="146.5" stroke="#ff2020" stroke-width="1.7"/>
<g font-family="Liberation Sans, sans-serif" font-size="5.35" fill="#333"><text x="379.4" y="141.9">Glass/ITO/ZnO/PM6:Y6/MoOx/Ag pristine</text><text x="379.4" y="148.8">Glass/ITO/ZnO/PM6:Y6/MoOx/Ag aged solar simulator</text></g>
<polyline fill="none" stroke="#ff1a1a" stroke-width="0.6" stroke-linejoin="bevel" points="364.20,219.3 364.40,213.5 364.60,213.9 364.80,217.0 365.00,222.5 365.20,219.2 365.40,218.2 365.60,222.7 365.80,213.7 366.00,209.3 366.20,215.8 366.40,216.3 366.60,222.1 366.80,225.6 367.00,212.2 367.20,227.3 367.40,224.1 367.60,221.4 367.80,219.8 368.00,228.0 368.20,218.7 368.40,216.4 368.60,218.5 368.80,212.4 369.00,219.4 369.20,216.9 369.40,218.6 369.60,218.7 369.80,213.2 370.00,222.3 370.20,213.0 370.40,220.2 370.60,210.5 370.80,218.3 371.00,214.0 371.20,217.6 371.40,214.7 371.60,208.2 371.80,211.5 372.00,215.3 372.20,217.2 372.40,209.3 372.60,207.4 372.80,213.1 373.00,216.6 373.20,215.6 373.40,215.2 373.60,221.6 373.80,221.8 374.00,220.6 374.20,213.8 374.40,217.8 374.60,217.0 374.80,212.8 375.00,222.4 375.20,219.8 375.40,217.6 375.60,224.6 375.80,221.3 376.00,220.9 376.20,221.7 376.40,219.5 376.60,211.6 376.80,215.0 377.00,220.5 377.20,213.7 377.40,216.8 377.60,218.1 377.80,222.0 378.00,221.2 378.20,219.5 378.40,215.2 378.60,219.3 378.80,217.9 379.00,215.4 379.20,221.5 379.40,218.4 379.60,213.8 379.80,222.0 380.00,216.4 380.20,220.0 380.40,212.0 380.60,218.1 380.80,214.6 381.00,214.5 381.20,210.7 381.40,226.5 381.60,217.5 381.80,219.1 382.00,222.5 382.20,217.9 382.40,220.5 382.60,213.5 382.80,219.8 383.00,217.6 383.20,221.3 383.40,220.0 383.60,213.8 383.80,211.6 384.00,214.5 384.20,221.0 384.40,219.5 384.60,219.2 384.80,209.6 385.00,206.9 385.20,214.8 385.40,215.9 385.60,214.8 385.80,218.6 386.00,217.0 386.20,213.7 386.40,215.5 386.60,220.1 386.80,220.1 387.00,219.5 387.20,228.3 387.40,217.8 387.60,218.7 387.80,214.0 388.00,216.3 388.20,219.8 388.40,220.1 388.60,217.5 388.80,219.9 389.00,218.6 389.20,211.1 389.40,205.7 389.60,227.6 389.80,221.9 390.00,218.3 390.20,211.6 390.40,213.1 390.60,223.0 390.80,206.6 391.00,216.0 391.20,220.4 391.40,217.5 391.60,219.9 391.80,216.8 392.00,227.1 392.20,214.5 392.40,213.7 392.60,220.4 392.80,224.5 393.00,217.9 393.20,221.2 393.40,214.2 393.60,210.9 393.80,220.5 394.00,221.1 394.20,221.3 394.40,214.4 394.60,212.7 394.80,213.5 395.00,217.7 395.20,220.8 395.40,220.1 395.60,211.7 395.80,217.4 396.00,216.3 396.20,216.6 396.40,216.4 396.60,216.0 396.80,219.4 397.00,218.1 397.20,219.0 397.40,216.0 397.60,220.5 397.80,218.5 398.00,210.5 398.20,220.5 398.40,217.5 398.60,222.2 398.80,218.1 399.00,218.5 399.20,219.8 399.40,218.9 399.60,217.0 399.80,211.6 400.00,225.8 400.20,212.7 400.40,217.7 400.60,221.7 400.80,220.4 401.00,221.0 401.20,221.7 401.40,223.7 401.60,220.2 401.80,230.7 402.00,215.6 402.20,220.4 402.40,217.9 402.60,216.7 402.80,219.4 403.00,223.7 403.20,214.9 403.40,214.7 403.60,220.2 403.80,219.5 404.00,225.0 404.20,221.5 404.40,218.5 404.60,216.4 404.80,218.7 405.00,217.1 405.20,212.1 405.40,216.9 405.60,215.8 405.80,215.4 406.00,214.6 406.20,223.1 406.40,219.6 406.60,220.9 406.80,215.1 407.00,213.4 407.20,216.2 407.40,218.2 407.60,216.0 407.80,216.7 408.00,221.1 408.20,218.4 408.40,213.4 408.60,215.7 408.80,215.1 409.00,218.8 409.20,213.9 409.40,218.1 409.60,221.4 409.80,218.5 410.00,214.4 410.20,215.1 410.40,217.7 410.60,218.9 410.80,220.2 411.00,216.2 411.20,211.5 411.40,221.9 411.60,217.2 411.80,217.6 412.00,217.4 412.20,212.6 412.40,216.0 412.60,218.8 412.80,222.4 413.00,218.8 413.20,206.3 413.40,217.2 413.60,219.2 413.80,222.4 414.00,219.8 414.20,226.5 414.40,222.1 414.60,221.6 414.80,220.0 415.00,211.0 415.20,219.8 415.40,219.1 415.60,215.1 415.80,219.4 416.00,218.4 416.20,214.3 416.40,214.7 416.60,213.6 416.80,215.4 417.00,213.1 417.20,217.6 417.40,208.9 417.60,216.0 417.80,210.8 418.00,215.5 418.20,219.1 418.40,216.8 418.60,216.0 418.80,216.4 419.00,222.1 419.20,211.6 419.40,219.6 419.60,210.3 419.80,214.3 420.00,216.6 420.20,212.5 420.40,216.5 420.60,218.5 420.80,211.0 421.00,215.3 421.20,214.0 421.40,207.7 421.60,214.2 421.80,211.7 422.00,220.0 422.20,211.6 422.40,222.2 422.60,213.9 422.80,223.8 423.00,218.4 423.20,218.0 423.40,219.1 423.60,219.1 423.80,220.8 424.00,221.8 424.20,213.6 424.40,210.0 424.60,204.3 424.80,213.1 425.00,217.6 425.20,216.1 425.40,215.0 425.60,213.1 425.80,211.8 426.00,212.8 426.20,215.1 426.40,206.5 426.60,216.2 426.80,207.9 427.00,213.3 427.20,211.8 427.40,212.9 427.60,210.0 427.80,209.1 428.00,212.2 428.20,208.4 428.40,222.0 428.60,210.7 428.80,209.9 429.00,210.5 429.20,208.7 429.40,203.4 429.60,212.0 429.80,214.2 430.00,207.0 430.20,212.7 430.40,207.8 430.60,212.2 430.80,213.6 431.00,213.8 431.20,213.1 431.40,208.2 431.60,214.2 431.80,208.8 432.00,212.0 432.20,213.5 432.40,209.6 432.60,205.8 432.80,213.4 433.00,205.8 433.20,204.9 433.40,200.6 433.60,203.5 433.80,193.7 434.00,180.9 434.20,173.5 434.40,190.0 434.60,205.4 434.80,201.3 435.00,208.7 435.20,213.5 435.40,216.5 435.60,213.2 435.80,208.0 436.00,215.4 436.20,214.4 436.40,205.8 436.60,210.0 436.80,212.9 437.00,211.6 437.20,213.7 437.40,214.6 437.60,213.3 437.80,210.5 438.00,205.3 438.20,214.5 438.40,218.7 438.60,222.2 438.80,213.9 439.00,214.3 439.20,221.1 439.40,221.1 439.60,216.1 439.80,217.9 440.00,211.4 440.20,218.0 440.40,212.0 440.60,215.6 440.80,215.9 441.00,214.5 441.20,207.4 441.40,213.9 441.60,219.8 441.80,218.2 442.00,216.5 442.20,219.9 442.40,220.5 442.60,220.6 442.80,212.2 443.00,215.8 443.20,214.1 443.40,211.7 443.60,209.1 443.80,216.4 444.00,213.1 444.20,228.0 444.40,216.8 444.60,215.7 444.80,214.0 445.00,224.5 445.20,210.4 445.40,214.3 445.60,211.5 445.80,214.7 446.00,215.0 446.20,220.6 446.40,208.1 446.60,214.9 446.80,222.6 447.00,211.1 447.20,211.8 447.40,207.0 447.60,197.1 447.80,209.4 448.00,216.3 448.20,208.7 448.40,202.3 448.60,213.3 448.80,211.9 449.00,215.8 449.20,214.4 449.40,207.3 449.60,210.1 449.80,198.1 450.00,213.2 450.20,208.2 450.40,212.7 450.60,212.3 450.80,204.9 451.00,205.5 451.20,201.9 451.40,195.8 451.60,206.5 451.80,208.2 452.00,201.6 452.20,211.0 452.40,207.2 452.60,208.8 452.80,201.6 453.00,195.7 453.20,208.9 453.40,206.8 453.60,201.2 453.80,197.6 454.00,196.9 454.20,197.1 454.40,195.8 454.60,188.9 454.80,206.2 455.00,195.2 455.20,202.9 455.40,203.5 455.60,206.7 455.80,196.0 456.00,211.9 456.20,208.7 456.40,208.9 456.60,211.2 456.80,198.8 457.00,184.9 457.20,204.5 457.40,210.1 457.60,209.4 457.80,200.0 458.00,203.4 458.20,206.5 458.40,194.7 458.60,200.8 458.80,199.6 459.00,210.7 459.20,195.6 459.40,207.5 459.60,198.2 459.80,189.6 460.00,215.5 460.20,199.5 460.40,211.5 460.60,219.4 460.80,206.1 461.00,201.1 461.20,213.3 461.40,206.1 461.60,197.5 461.80,198.2 462.00,202.6 462.20,211.5 462.40,205.6 462.60,213.6 462.80,222.2 463.00,222.1 463.20,224.4 463.40,223.6 463.60,206.1 463.80,222.1 464.00,215.8 464.20,212.7 464.40,206.9 464.60,203.8 464.80,206.4 465.00,212.5 465.20,205.6 465.40,207.7 465.60,208.9 465.80,216.9 466.00,211.9 466.20,213.7 466.40,222.9 466.60,212.7 466.80,217.1 467.00,205.6 467.20,212.5 467.40,210.4 467.60,210.5 467.80,206.9 468.00,203.9 468.20,208.3 468.40,207.1 468.60,216.4 468.80,216.6 469.00,205.2 469.20,217.9 469.40,213.1 469.60,220.4 469.80,216.0 470.00,210.8 470.20,225.9 470.40,222.0 470.60,210.8 470.80,205.2 471.00,211.6 471.20,206.3 471.40,210.0 471.60,214.8 471.80,219.0 472.00,207.3 472.20,216.9 472.40,215.2 472.60,206.0 472.80,199.4 473.00,215.4 473.20,214.8 473.40,225.8 473.60,220.4 473.80,216.0 474.00,220.2 474.20,202.6 474.40,209.2 474.60,205.9 474.80,217.8 475.00,210.5 475.20,188.4 475.40,214.6 475.60,200.4 475.80,210.1 476.00,202.5 476.20,207.4 476.40,210.7 476.60,209.2 476.80,203.3 477.00,217.2 477.20,209.9 477.40,205.2 477.60,206.9 477.80,197.2 478.00,210.4 478.20,199.9 478.40,200.5 478.60,200.0 478.80,191.7 479.00,189.2 479.20,197.4 479.40,199.0 479.60,206.3 479.80,202.5 480.00,194.7 480.20,205.5 480.40,207.7 480.60,208.1 480.80,202.7 481.00,191.7 481.20,204.6 481.40,192.6 481.60,200.6 481.80,188.8 482.00,204.0 482.20,195.1 482.40,205.5 482.60,207.9 482.80,202.8 483.00,188.0 483.20,189.8 483.40,191.6 483.60,202.4 483.80,201.8 484.00,201.6 484.20,203.5 484.40,206.0 484.60,207.2 484.80,214.0 485.00,204.1 485.20,205.9 485.40,193.5 485.60,196.3 485.80,200.0 486.00,197.3 486.20,206.2 486.40,211.6 486.60,203.6 486.80,204.7 487.00,206.5 487.20,212.1 487.40,209.5 487.60,216.6 487.80,216.9 488.00,217.8 488.20,220.4 488.40,215.9 488.60,216.5 488.80,226.1 489.00,215.0 489.20,220.0 489.40,215.7 489.60,213.0 489.80,213.4 490.00,211.3 490.20,216.4 490.40,212.7 490.60,213.6 490.80,222.8 491.00,213.8 491.20,220.3 491.40,213.6 491.60,215.6 491.80,205.7 492.00,210.0 492.20,225.6 492.40,216.3 492.60,219.1 492.80,216.6 493.00,222.1 493.20,210.8 493.40,212.3 493.60,218.6 493.80,219.3 494.00,210.1 494.20,209.7 494.40,207.3 494.60,207.5 494.80,201.3 495.00,200.2 495.20,208.9 495.40,200.0 495.60,205.8 495.80,208.9 496.00,207.4 496.20,215.5 496.40,211.2 496.60,212.0 496.80,204.5 497.00,204.0 497.20,209.9 497.40,208.3 497.60,203.4 497.80,209.1 498.00,208.7 498.20,208.4 498.40,215.9 498.60,201.7 498.80,203.6 499.00,200.4 499.20,194.0 499.40,186.9 499.60,197.4 499.80,194.8 500.00,194.0 500.20,194.6 500.40,195.2 500.60,190.3 500.80,198.0 501.00,186.2 501.20,197.6 501.40,189.1 501.60,195.4 501.80,200.7 502.00,193.2 502.20,189.8 502.40,193.7 502.60,187.1 502.80,184.9 503.00,184.0 503.20,194.9 503.40,189.8 503.60,189.0 503.80,179.5 504.00,190.7 504.20,169.5 504.40,189.4 504.60,179.3 504.80,197.5 505.00,176.0 505.20,194.5 505.40,193.9 505.60,180.6 505.80,191.9 506.00,203.6 506.20,202.5 506.40,185.8 506.60,191.8 506.80,186.4 507.00,185.5 507.20,186.7 507.40,201.6 507.60,192.6 507.80,193.3 508.00,196.2 508.20,205.6 508.40,208.3 508.60,199.8 508.80,214.2 509.00,198.5 509.20,203.0 509.40,207.1 509.60,214.7 509.80,202.8 510.00,206.9 510.20,213.1 510.40,209.1 510.60,212.7 510.80,213.1 511.00,209.2 511.20,211.9 511.40,213.5 511.60,207.6 511.80,217.1 512.00,195.6 512.20,202.3 512.40,217.2 512.60,211.9 512.80,205.8 513.00,211.4 513.20,214.5 513.40,203.2 513.60,210.2 513.80,204.8 514.00,205.5 514.20,207.0 514.40,215.1 514.60,202.4 514.80,206.9 515.00,212.7 515.20,201.3 515.40,199.6 515.60,213.3 515.80,210.5 516.00,209.9 516.20,211.5 516.40,204.9 516.60,228.7 516.80,206.1 517.00,210.2 517.20,204.7 517.40,210.3 517.60,220.6 517.80,209.5 518.00,210.6 518.20,202.3 518.40,215.3 518.60,205.3 518.80,197.5 519.00,211.2 519.20,206.5 519.40,214.6 519.60,213.6 519.80,215.3 520.00,214.6 520.20,207.8 520.40,202.9 520.60,216.0 520.80,207.6 521.00,209.1 521.20,204.4 521.40,195.5 521.60,200.7 521.80,217.3 522.00,204.2 522.20,206.1 522.40,198.9 522.60,204.1 522.80,205.4 523.00,207.4 523.20,209.6 523.40,207.4 523.60,208.3 523.80,211.5 524.00,213.1 524.20,210.2 524.40,221.4 524.60,211.9 524.80,211.2 525.00,206.1 525.20,216.5 525.40,204.5 525.60,200.8 525.80,203.9 526.00,212.1 526.20,199.6 526.40,212.3 526.60,203.0 526.80,193.3 527.00,201.1 527.20,213.7 527.40,198.2 527.60,196.3 527.80,208.6 528.00,214.8 528.20,214.5 528.40,207.5 528.60,211.0 528.80,211.4 529.00,215.8 529.20,221.5 529.40,208.3 529.60,217.6 529.80,208.4 530.00,214.2 530.20,205.0 530.40,205.8 530.60,212.7 530.80,204.9 531.00,216.0 531.20,207.7 531.40,211.3 531.60,209.6 531.80,207.1 532.00,208.8 532.20,213.7 532.40,225.6 532.60,200.2 532.80,209.6 533.00,207.2 533.20,203.1 533.40,210.3 533.60,202.6 533.80,206.2 534.00,212.9 534.20,192.8 534.40,207.0 534.60,209.5 534.80,203.2 535.00,214.3 535.20,214.9 535.40,211.2 535.60,220.1 535.80,204.3 536.00,215.3 536.20,209.6 536.40,204.9 536.60,210.8 536.80,210.4 537.00,217.5 537.20,203.3 537.40,211.1 537.60,210.1 537.80,223.3 538.00,208.2 538.20,222.4 538.40,206.3 538.60,218.8 538.80,215.0 539.00,216.4 539.20,207.5 539.40,197.5 539.60,197.5 539.80,212.7 540.00,204.8 540.20,197.7 540.40,207.8 540.60,197.4"/>
<polyline fill="none" stroke="#2a2a2a" stroke-width="0.6" stroke-linejoin="bevel" points="364.20,257.9 364.40,252.8 364.60,254.7 364.80,256.7 365.00,257.0 365.20,257.9 365.40,256.9 365.60,256.6 365.80,258.3 366.00,259.4 366.20,254.0 366.40,256.9 366.60,257.3 366.80,258.1 367.00,259.9 367.20,254.2 367.40,258.0 367.60,252.4 367.80,254.2 368.00,254.3 368.20,254.5 368.40,253.5 368.60,253.6 368.80,254.0 369.00,254.2 369.20,250.6 369.40,251.7 369.60,254.0 369.80,256.4 370.00,257.8 370.20,262.3 370.40,256.3 370.60,254.4 370.80,256.8 371.00,258.0 371.20,256.8 371.40,254.1 371.60,256.4 371.80,256.7 372.00,253.6 372.20,253.9 372.40,259.2 372.60,250.9 372.80,255.8 373.00,254.2 373.20,257.7 373.40,255.8 373.60,252.6 373.80,257.8 374.00,253.8 374.20,259.6 374.40,258.6 374.60,254.6 374.80,256.6 375.00,255.5 375.20,253.4 375.40,258.4 375.60,257.3 375.80,258.4 376.00,258.7 376.20,259.2 376.40,258.1 376.60,255.6 376.80,256.2 377.00,257.1 377.20,256.2 377.40,256.2 377.60,261.2 377.80,258.1 378.00,261.3 378.20,255.3 378.40,257.0 378.60,256.0 378.80,255.9 379.00,256.0 379.20,256.2 379.40,255.3 379.60,260.2 379.80,257.4 380.00,253.8 380.20,253.9 380.40,256.5 380.60,255.8 380.80,253.1 381.00,256.8 381.20,251.8 381.40,254.5 381.60,259.9 381.80,250.2 382.00,255.6 382.20,258.2 382.40,255.4 382.60,253.8 382.80,253.5 383.00,250.9 383.20,252.8 383.40,256.2 383.60,254.9 383.80,256.4 384.00,256.3 384.20,257.6 384.40,253.5 384.60,256.8 384.80,256.8 385.00,256.8 385.20,255.3 385.40,252.1 385.60,258.2 385.80,258.3 386.00,261.5 386.20,257.5 386.40,259.3 386.60,256.7 386.80,254.5 387.00,256.6 387.20,253.1 387.40,256.5 387.60,255.8 387.80,253.7 388.00,258.8 388.20,258.5 388.40,256.9 388.60,257.7 388.80,259.6 389.00,255.6 389.20,252.8 389.40,253.7 389.60,257.5 389.80,256.7 390.00,253.0 390.20,259.6 390.40,257.2 390.60,260.2 390.80,258.9 391.00,255.1 391.20,256.2 391.40,254.3 391.60,254.3 391.80,255.7 392.00,257.7 392.20,259.7 392.40,254.6 392.60,258.1 392.80,256.5 393.00,255.6 393.20,258.5 393.40,254.9 393.60,258.8 393.80,254.9 394.00,253.6 394.20,257.6 394.40,252.6 394.60,253.4 394.80,255.8 395.00,256.4 395.20,256.0 395.40,252.1 395.60,253.5 395.80,257.6 396.00,257.6 396.20,254.2 396.40,257.4 396.60,257.6 396.80,259.8 397.00,255.9 397.20,260.7 397.40,256.4 397.60,260.2 397.80,258.9 398.00,254.5 398.20,256.4 398.40,258.0 398.60,259.8 398.80,254.1 399.00,255.8 399.20,257.9 399.40,257.2 399.60,253.5 399.80,253.8 400.00,256.8 400.20,253.6 400.40,256.5 400.60,258.0 400.80,255.9 401.00,249.7 401.20,258.5 401.40,258.3 401.60,258.8 401.80,257.5 402.00,251.7 402.20,258.9 402.40,256.6 402.60,258.0 402.80,255.5 403.00,255.3 403.20,255.2 403.40,259.3 403.60,256.2 403.80,255.1 404.00,252.7 404.20,256.7 404.40,255.6 404.60,255.8 404.80,257.4 405.00,256.6 405.20,254.8 405.40,255.3 405.60,255.2 405.80,257.0 406.00,257.2 406.20,256.2 406.40,254.1 406.60,258.1 406.80,258.3 407.00,253.7 407.20,257.0 407.40,255.1 407.60,250.7 407.80,255.4 408.00,257.5 408.20,253.8 408.40,254.2 408.60,258.5 408.80,254.0 409.00,254.5 409.20,256.0 409.40,258.1 409.60,258.0 409.80,255.3 410.00,255.7 410.20,256.5 410.40,255.3 410.60,254.1 410.80,253.4 411.00,257.6 411.20,255.5 411.40,262.6 411.60,257.6 411.80,254.5 412.00,256.3 412.20,257.2 412.40,257.5 412.60,257.6 412.80,257.5 413.00,255.9 413.20,257.3 413.40,260.3 413.60,253.7 413.80,253.4 414.00,255.7 414.20,256.9 414.40,256.2 414.60,257.6 414.80,255.2 415.00,255.2 415.20,257.4 415.40,257.3 415.60,259.5 415.80,259.1 416.00,251.4 416.20,257.4 416.40,254.0 416.60,250.7 416.80,256.3 417.00,254.9 417.20,254.5 417.40,252.5 417.60,253.2 417.80,255.1 418.00,252.0 418.20,255.1 418.40,255.6 418.60,254.9 418.80,255.7 419.00,254.5 419.20,251.6 419.40,251.6 419.60,254.1 419.80,256.1 420.00,254.5 420.20,253.2 420.40,254.8 420.60,250.1 420.80,251.9 421.00,253.2 421.20,254.0 421.40,253.5 421.60,253.8 421.80,251.8 422.00,253.2 422.20,255.0 422.40,250.2 422.60,251.9 422.80,254.1 423.00,258.4 423.20,256.5 423.40,258.5 423.60,257.9 423.80,253.7 424.00,254.5 424.20,251.9 424.40,257.1 424.60,255.8 424.80,255.2 425.00,255.0 425.20,254.4 425.40,253.8 425.60,254.0 425.80,256.1 426.00,251.3 426.20,250.4 426.40,252.5 426.60,255.0 426.80,252.7 427.00,251.7 427.20,254.2 427.40,252.7 427.60,248.2 427.80,250.3 428.00,247.9 428.20,252.2 428.40,251.7 428.60,253.6 428.80,257.3 429.00,251.0 429.20,252.3 429.40,251.2 429.60,245.3 429.80,249.7 430.00,249.4 430.20,251.2 430.40,248.3 430.60,247.0 430.80,251.4 431.00,250.1 431.20,248.3 431.40,248.6 431.60,249.5 431.80,251.9 432.00,253.0 432.20,246.6 432.40,252.4 432.60,249.9 432.80,250.5 433.00,251.3 433.20,245.4 433.40,247.4 433.60,239.3 433.80,238.3 434.00,235.5 434.20,229.5 434.40,243.4 434.60,244.4 434.80,247.0 435.00,247.0 435.20,254.1 435.40,254.1 435.60,253.2 435.80,250.6 436.00,249.7 436.20,249.8 436.40,252.9 436.60,247.1 436.80,249.6 437.00,253.3 437.20,251.4 437.40,253.5 437.60,250.4 437.80,250.7 438.00,253.4 438.20,252.0 438.40,251.6 438.60,249.6 438.80,247.3 439.00,254.7 439.20,250.0 439.40,249.1 439.60,253.1 439.80,248.7 440.00,247.5 440.20,249.3 440.40,250.5 440.60,251.3 440.80,251.9 441.00,252.9 441.20,250.0 441.40,251.0 441.60,249.6 441.80,248.3 442.00,251.1 442.20,251.3 442.40,255.6 442.60,253.0 442.80,250.1 443.00,253.5 443.20,251.1 443.40,255.4 443.60,246.7 443.80,249.4 444.00,249.5 444.20,251.8 444.40,251.6 444.60,248.2 444.80,247.7 445.00,253.0 445.20,256.3 445.40,256.0 445.60,250.9 445.80,252.9 446.00,249.3 446.20,247.9 446.40,255.4 446.60,254.4 446.80,251.8 447.00,251.6 447.20,254.5 447.40,252.4 447.60,250.3 447.80,251.6 448.00,250.7 448.20,249.6 448.40,248.9 448.60,253.4 448.80,249.7 449.00,247.7 449.20,255.4 449.40,253.2 449.60,250.5 449.80,248.0 450.00,247.9 450.20,242.8 450.40,246.5 450.60,247.3 450.80,246.2 451.00,248.1 451.20,245.1 451.40,247.8 451.60,242.9 451.80,246.9 452.00,245.1 452.20,243.3 452.40,245.9 452.60,246.9 452.80,244.9 453.00,248.5 453.20,243.0 453.40,246.4 453.60,245.0 453.80,240.9 454.00,246.6 454.20,239.0 454.40,244.5 454.60,243.2 454.80,245.0 455.00,237.8 455.20,238.2 455.40,238.6 455.60,240.7 455.80,241.0 456.00,241.1 456.20,240.8 456.40,240.4 456.60,239.4 456.80,243.0 457.00,246.5 457.20,248.1 457.40,243.5 457.60,247.2 457.80,239.0 458.00,244.1 458.20,238.3 458.40,242.3 458.60,239.7 458.80,240.9 459.00,243.5 459.20,250.4 459.40,245.3 459.60,249.6 459.80,248.5 460.00,248.9 460.20,248.8 460.40,249.6 460.60,244.2 460.80,247.7 461.00,248.4 461.20,245.3 461.40,247.7 461.60,243.5 461.80,248.8 462.00,245.5 462.20,248.1 462.40,252.8 462.60,254.7 462.80,250.1 463.00,249.6 463.20,253.7 463.40,241.8 463.60,253.7 463.80,253.4 464.00,246.3 464.20,252.6 464.40,249.8 464.60,249.9 464.80,241.7 465.00,247.5 465.20,249.1 465.40,249.5 465.60,250.8 465.80,252.2 466.00,245.4 466.20,253.4 466.40,251.5 466.60,252.1 466.80,249.6 467.00,250.3 467.20,251.1 467.40,256.3 467.60,249.8 467.80,258.3 468.00,253.1 468.20,251.0 468.40,248.5 468.60,254.2 468.80,246.1 469.00,252.3 469.20,249.7 469.40,246.4 469.60,246.0 469.80,249.8 470.00,249.6 470.20,252.4 470.40,251.2 470.60,250.2 470.80,253.3 471.00,247.8 471.20,253.3 471.40,250.7 471.60,247.2 471.80,247.7 472.00,249.9 472.20,245.5 472.40,254.5 472.60,252.9 472.80,246.4 473.00,248.8 473.20,253.5 473.40,249.3 473.60,244.8 473.80,241.4 474.00,243.2 474.20,252.3 474.40,250.8 474.60,247.3 474.80,254.3 475.00,251.7 475.20,250.9 475.40,251.2 475.60,251.2 475.80,257.3 476.00,249.3 476.20,250.5 476.40,255.0 476.60,254.7 476.80,246.4 477.00,254.5 477.20,250.9 477.40,242.4 477.60,251.3 477.80,240.7 478.00,246.5 478.20,240.9 478.40,239.1 478.60,247.1 478.80,246.1 479.00,244.6 479.20,245.0 479.40,243.6 479.60,242.6 479.80,239.8 480.00,244.3 480.20,242.0 480.40,240.4 480.60,238.4 480.80,238.4 481.00,233.9 481.20,237.3 481.40,235.5 481.60,242.7 481.80,236.5 482.00,238.4 482.20,240.1 482.40,242.9 482.60,242.5 482.80,241.7 483.00,248.6 483.20,242.5 483.40,243.6 483.60,250.7 483.80,239.8 484.00,245.1 484.20,243.3 484.40,237.7 484.60,239.5 484.80,243.6 485.00,237.0 485.20,241.2 485.40,245.4 485.60,243.0 485.80,245.7 486.00,244.1 486.20,245.3 486.40,246.0 486.60,247.2 486.80,250.2 487.00,248.2 487.20,253.4 487.40,249.1 487.60,248.5 487.80,254.7 488.00,247.9 488.20,246.0 488.40,249.2 488.60,246.2 488.80,251.9 489.00,255.5 489.20,254.3 489.40,252.0 489.60,252.8 489.80,254.0 490.00,254.9 490.20,249.0 490.40,247.9 490.60,251.8 490.80,249.0 491.00,249.7 491.20,250.8 491.40,248.1 491.60,251.1 491.80,255.7 492.00,252.7 492.20,252.6 492.40,253.6 492.60,253.3 492.80,259.2 493.00,248.8 493.20,251.5 493.40,257.3 493.60,251.6 493.80,252.9 494.00,263.5 494.20,262.6 494.40,254.2 494.60,254.1 494.80,251.2 495.00,253.2 495.20,252.3 495.40,255.2 495.60,252.4 495.80,254.3 496.00,247.2 496.20,249.3 496.40,241.4 496.60,249.4 496.80,252.4 497.00,249.7 497.20,258.1 497.40,248.8 497.60,251.4 497.80,249.8 498.00,250.9 498.20,250.4 498.40,246.5 498.60,246.7 498.80,254.3 499.00,246.4 499.20,249.1 499.40,242.1 499.60,245.2 499.80,247.1 500.00,245.1 500.20,244.3 500.40,245.4 500.60,245.7 500.80,247.2 501.00,246.8 501.20,237.6 501.40,233.7 501.60,237.8 501.80,237.2 502.00,238.8 502.20,239.8 502.40,234.4 502.60,242.0 502.80,235.6 503.00,228.5 503.20,235.4 503.40,231.5 503.60,229.5 503.80,221.8 504.00,223.6 504.20,217.5 504.40,221.6 504.60,224.7 504.80,228.3 505.00,231.9 505.20,233.9 505.40,232.0 505.60,239.0 505.80,235.3 506.00,237.2 506.20,233.8 506.40,230.6 506.60,228.8 506.80,237.2 507.00,235.6 507.20,238.4 507.40,241.6 507.60,234.9 507.80,234.5 508.00,240.9 508.20,241.5 508.40,239.7 508.60,239.0 508.80,235.9 509.00,240.6 509.20,238.8 509.40,242.3 509.60,243.7 509.80,238.9 510.00,241.6 510.20,240.8 510.40,242.2 510.60,244.8 510.80,242.5 511.00,242.8 511.20,242.9 511.40,239.0 511.60,240.2 511.80,241.1 512.00,243.4 512.20,242.8 512.40,244.6 512.60,233.3 512.80,234.9 513.00,228.7 513.20,231.5 513.40,228.4 513.60,237.5 513.80,237.3 514.00,232.7 514.20,238.0 514.40,240.5 514.60,244.9 514.80,243.4 515.00,242.3 515.20,242.5 515.40,245.3 515.60,245.0 515.80,243.4 516.00,242.1 516.20,250.0 516.40,245.9 516.60,248.5 516.80,252.8 517.00,250.9 517.20,254.4 517.40,247.0 517.60,251.6 517.80,244.4 518.00,243.2 518.20,244.2 518.40,247.8 518.60,245.8 518.80,244.2 519.00,252.5 519.20,246.7 519.40,250.3 519.60,252.8 519.80,251.9 520.00,255.2 520.20,255.9 520.40,253.0 520.60,255.4 520.80,249.5 521.00,247.5 521.20,251.4 521.40,248.8 521.60,254.1 521.80,253.7 522.00,253.2 522.20,256.1 522.40,255.3 522.60,243.7 522.80,250.3 523.00,250.5 523.20,251.0 523.40,248.0 523.60,246.7 523.80,251.0 524.00,252.8 524.20,244.6 524.40,246.1 524.60,248.8 524.80,243.1 525.00,249.5 525.20,254.3 525.40,249.2 525.60,252.9 525.80,249.9 526.00,253.7 526.20,254.3 526.40,256.0 526.60,252.0 526.80,254.5 527.00,252.1 527.20,249.4 527.40,255.5 527.60,249.9 527.80,252.9 528.00,260.3 528.20,256.0 528.40,251.2 528.60,254.7 528.80,252.4 529.00,253.7 529.20,249.5 529.40,254.1 529.60,247.9 529.80,252.4 530.00,251.1 530.20,251.3 530.40,254.6 530.60,242.8 530.80,244.6 531.00,246.1 531.20,248.6 531.40,254.2 531.60,251.7 531.80,251.6 532.00,249.8 532.20,250.5 532.40,249.9 532.60,249.9 532.80,245.0 533.00,248.6 533.20,250.1 533.40,249.1 533.60,243.8 533.80,249.2 534.00,248.5 534.20,246.8 534.40,242.3 534.60,241.9 534.80,246.8 535.00,243.9 535.20,243.1 535.40,249.5 535.60,249.2 535.80,248.1 536.00,250.0 536.20,248.6 536.40,242.1 536.60,248.7 536.80,245.4 537.00,246.3 537.20,249.5 537.40,246.1 537.60,249.8 537.80,246.0 538.00,245.7 538.20,245.8 538.40,248.4 538.60,244.4 538.80,249.8 539.00,250.0 539.20,248.8 539.40,243.5 539.60,243.3 539.80,251.3 540.00,245.5 540.20,251.5 540.40,244.5 540.60,247.6"/>
</svg>
</body></html>
